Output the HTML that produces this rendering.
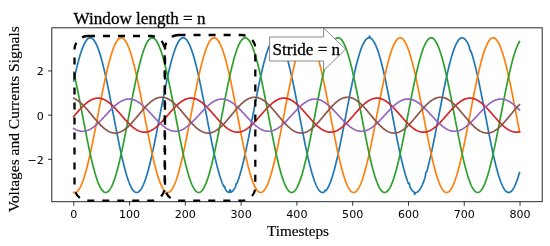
<!DOCTYPE html>
<html><head><meta charset="utf-8"><title>Window stride</title>
<style>
html,body{margin:0;padding:0;background:#fff;}
body{width:550px;height:246px;overflow:hidden;}
svg{display:block;}
.tk{font-family:"DejaVu Sans",sans-serif;font-size:11.1px;fill:#000;}
.sr{font-family:"Liberation Serif","Times New Roman",serif;fill:#000;stroke:#000;stroke-width:0.3px;}
</style></head><body>
<svg width="550" height="246" viewBox="0 0 550 246">
<rect width="550" height="246" fill="#fff"/>
<clipPath id="c"><rect x="51.80" y="27.80" width="490.40" height="173.90"/></clipPath>
<g clip-path="url(#c)">
<path d="M73.75,80.90 L74.31,78.31 L74.87,75.78 L75.42,73.29 L75.98,70.87 L76.54,68.51 L77.10,66.22 L77.66,64.00 L78.21,61.85 L78.77,59.77 L79.33,57.78 L79.89,55.86 L80.44,54.03 L81.00,52.29 L81.56,50.63 L82.12,49.07 L82.68,47.60 L83.23,46.23 L83.79,44.96 L84.35,43.78 L84.91,42.71 L85.47,41.74 L86.02,40.87 L86.58,40.11 L87.14,39.46 L87.70,38.91 L88.26,38.47 L88.81,38.14 L89.37,37.92 L89.93,37.81 L90.49,37.81 L91.04,37.92 L91.60,38.14 L92.16,38.47 L92.72,38.91 L93.28,39.46 L93.83,40.11 L94.39,40.87 L94.95,41.74 L95.51,42.71 L96.07,43.78 L96.62,44.96 L97.18,46.23 L97.74,47.60 L98.30,49.07 L98.86,50.63 L99.41,52.29 L99.97,54.03 L100.53,55.86 L101.09,57.78 L101.64,59.77 L102.20,61.85 L102.76,64.00 L103.32,66.22 L103.88,68.51 L104.43,70.87 L104.99,73.29 L105.55,75.78 L106.11,78.31 L106.67,80.90 L107.22,83.54 L107.78,86.22 L108.34,88.95 L108.90,91.71 L109.46,94.50 L110.01,97.33 L110.57,100.18 L111.13,103.05 L111.69,105.94 L112.25,108.84 L112.80,111.75 L113.36,114.66 L113.92,117.58 L114.48,120.49 L115.03,123.40 L115.59,126.29 L116.15,129.17 L116.71,132.02 L117.27,134.86 L117.82,137.66 L118.38,140.43 L118.94,143.17 L119.50,145.87 L120.06,148.52 L120.61,151.13 L121.17,153.68 L121.73,156.18 L122.29,158.63 L122.85,161.01 L123.40,163.32 L123.96,165.57 L124.52,167.74 L125.08,169.84 L125.63,171.87 L126.19,173.81 L126.75,175.67 L127.31,177.44 L127.87,179.12 L128.42,180.72 L128.98,182.22 L129.54,183.62 L130.10,184.93 L130.66,186.14 L131.21,187.25 L131.77,188.25 L132.33,189.15 L132.89,189.95 L133.45,190.64 L134.00,191.22 L134.56,191.69 L135.12,192.06 L135.68,192.32 L136.23,192.46 L136.79,192.50 L137.35,192.43 L137.91,192.24 L138.47,191.95 L139.02,191.55 L139.58,191.04 L140.14,190.42 L140.70,189.69 L141.26,188.86 L141.81,187.93 L142.37,186.89 L142.93,185.75 L143.49,184.51 L144.05,183.17 L144.60,181.73 L145.16,180.20 L145.72,178.57 L146.28,176.86 L146.83,175.06 L147.39,173.17 L147.95,171.20 L148.51,169.15 L149.07,167.03 L149.62,164.83 L150.18,162.56 L150.74,160.22 L151.30,157.82 L151.86,155.36 L152.41,152.84 L152.97,150.27 L153.53,147.64 L154.09,144.98 L154.65,142.26 L155.20,139.51 L155.76,136.73 L156.32,133.92 L156.88,131.07 L157.44,128.21 L157.99,125.33 L158.55,122.43 L159.11,119.52 L159.67,116.61 L160.22,113.69 L160.78,110.78 L161.34,107.87 L161.90,104.97 L162.46,102.09 L163.01,99.23 L163.57,96.39 L164.13,93.57 L164.69,90.79 L165.25,88.04 L165.80,85.33 L166.36,82.66 L166.92,80.03 L167.48,77.46 L168.04,74.94 L168.59,72.48 L169.15,70.08 L169.71,67.74 L170.27,65.47 L170.82,63.27 L171.38,61.15 L171.94,59.10 L172.50,57.13 L173.06,55.24 L173.61,53.44 L174.17,51.73 L174.73,50.10 L175.29,48.57 L175.85,47.14 L176.40,45.80 L176.96,44.55 L177.52,43.41 L178.08,42.37 L178.64,41.44 L179.19,40.61 L179.75,39.88 L180.31,39.26 L180.87,38.75 L181.42,38.35 L181.98,38.06 L182.54,37.87 L183.10,37.80 L183.66,37.84 L184.21,37.98 L184.77,38.24 L185.33,38.61 L185.89,39.08 L186.45,39.66 L187.00,40.35 L187.56,41.15 L188.12,42.05 L188.68,43.05 L189.24,44.16 L189.79,45.37 L190.35,46.68 L190.91,48.08 L191.47,49.58 L192.02,51.17 L192.58,52.86 L193.14,54.63 L193.70,56.49 L194.26,58.43 L194.81,60.45 L195.37,62.55 L195.93,64.73 L196.49,66.98 L197.05,69.29 L197.60,71.67 L198.16,74.11 L198.72,76.61 L199.28,79.17 L199.84,81.78 L200.39,84.43 L200.95,87.13 L201.51,89.86 L202.07,92.64 L202.62,95.44 L203.18,98.28 L203.74,101.13 L204.30,104.01 L204.86,106.90 L205.41,109.81 L205.97,112.72 L206.53,115.63 L207.09,118.55 L207.65,121.46 L208.20,124.36 L208.76,127.25 L209.32,130.12 L209.88,132.97 L210.44,135.79 L210.99,138.59 L211.55,141.35 L212.11,144.07 L212.67,146.76 L213.22,149.40 L213.78,151.99 L214.34,154.52 L214.90,157.00 L215.46,159.43 L216.01,161.79 L216.57,164.08 L217.13,166.30 L217.69,168.45 L218.25,170.53 L218.80,172.52 L219.36,174.44 L219.92,176.27 L220.48,178.01 L221.04,179.67 L221.59,181.23 L222.15,182.70 L222.71,184.07 L223.27,185.34 L223.83,186.52 L224.38,186.04 L224.94,187.63 L225.50,189.43 L226.06,190.19 L226.61,190.84 L227.17,191.39 L227.73,191.83 L228.29,192.16 L228.85,192.38 L229.40,192.49 L229.96,189.61 L230.52,190.65 L231.08,192.16 L231.64,191.83 L232.19,191.39 L232.75,190.84 L233.31,190.19 L233.87,189.43 L234.43,188.56 L234.98,187.59 L235.54,186.52 L236.10,184.02 L236.66,183.27 L237.21,182.70 L237.77,181.23 L238.33,179.67 L238.89,178.01 L239.45,176.27 L240.00,174.44 L240.56,172.52 L241.12,170.53 L241.68,168.45 L242.24,166.30 L242.79,164.08 L243.35,161.79 L243.91,159.43 L244.47,157.01 L245.03,154.53 L245.58,151.99 L246.14,149.40 L246.70,146.76 L247.26,144.08 L247.81,141.35 L248.37,138.59 L248.93,135.80 L249.49,132.97 L250.05,130.12 L250.60,127.25 L251.16,124.36 L251.72,121.46 L252.28,118.55 L252.84,115.64 L253.39,112.72 L253.95,109.81 L254.51,106.91 L255.07,104.01 L255.63,101.14 L256.18,98.28 L256.74,95.45 L257.30,92.64 L257.86,89.87 L258.41,87.13 L258.97,84.43 L259.53,81.78 L260.09,79.17 L260.65,76.62 L261.20,74.12 L261.76,71.67 L262.32,69.29 L262.88,66.98 L263.44,64.73 L263.99,62.56 L264.55,60.46 L265.11,58.43 L265.67,56.49 L266.23,54.63 L266.78,52.86 L267.34,51.18 L267.90,49.58 L268.46,48.08 L269.01,46.68 L269.57,45.37 L270.13,44.16 L270.69,43.05 L271.25,42.05 L271.80,41.15 L272.36,40.35 L272.92,39.66 L273.48,39.08 L274.04,38.61 L274.59,38.24 L275.15,37.98 L275.71,37.84 L276.27,37.80 L276.83,37.87 L277.38,38.06 L277.94,38.35 L278.50,38.75 L279.06,39.26 L279.62,39.88 L280.17,40.61 L280.73,41.44 L281.29,42.37 L281.85,43.41 L282.40,44.55 L282.96,45.79 L283.52,47.13 L284.08,48.57 L284.64,50.10 L285.19,51.73 L285.75,53.44 L286.31,55.24 L286.87,57.13 L287.43,59.10 L287.98,61.15 L288.54,63.27 L289.10,65.47 L289.66,67.74 L290.22,70.08 L290.77,72.48 L291.33,74.94 L291.89,77.46 L292.45,80.03 L293.00,82.65 L293.56,85.32 L294.12,88.03 L294.68,90.78 L295.24,93.57 L295.79,96.38 L296.35,99.22 L296.91,102.09 L297.47,104.97 L298.03,107.87 L298.58,110.78 L299.14,113.69 L299.70,116.61 L300.26,119.52 L300.82,122.43 L301.37,125.32 L301.93,128.21 L302.49,131.07 L303.05,133.91 L303.60,136.73 L304.16,139.51 L304.72,142.26 L305.28,144.97 L305.84,147.64 L306.39,150.26 L306.95,152.84 L307.51,155.36 L308.07,157.82 L308.63,160.22 L309.18,162.56 L309.74,164.83 L310.30,167.03 L310.86,169.15 L311.42,171.20 L311.97,173.17 L312.53,175.06 L313.09,176.86 L313.65,178.57 L314.20,180.20 L314.76,181.73 L315.32,183.16 L315.88,184.50 L316.44,185.75 L316.99,186.89 L317.55,187.93 L318.11,188.86 L318.67,189.69 L319.23,190.42 L319.78,191.04 L320.34,191.55 L320.90,191.95 L321.46,192.24 L322.02,192.43 L322.57,192.50 L323.13,192.46 L323.69,192.32 L324.25,192.06 L324.80,190.37 L325.36,190.42 L325.92,190.64 L326.48,189.95 L327.04,189.15 L327.59,188.25 L328.15,187.25 L328.71,186.14 L329.27,184.93 L329.83,183.62 L330.38,182.22 L330.94,180.72 L331.50,179.13 L332.06,177.44 L332.62,175.67 L333.17,173.81 L333.73,171.87 L334.29,169.85 L334.85,167.75 L335.41,165.57 L335.96,163.32 L336.52,161.01 L337.08,158.63 L337.64,156.19 L338.19,153.69 L338.75,151.13 L339.31,148.53 L339.87,145.87 L340.43,143.17 L340.98,140.44 L341.54,137.66 L342.10,134.86 L342.66,132.03 L343.22,129.17 L343.77,126.29 L344.33,123.40 L344.89,120.49 L345.45,117.58 L346.01,114.67 L346.56,111.75 L347.12,108.84 L347.68,105.94 L348.24,103.05 L348.79,100.18 L349.35,97.33 L349.91,94.51 L350.47,91.71 L351.03,88.95 L351.58,86.23 L352.14,83.54 L352.70,80.91 L353.26,78.32 L353.82,75.78 L354.37,73.30 L354.93,70.87 L355.49,68.52 L356.05,66.22 L356.61,64.00 L357.16,61.85 L357.72,59.77 L358.28,57.78 L358.84,55.86 L359.39,54.03 L359.95,52.29 L360.51,50.64 L361.07,49.07 L361.63,47.60 L362.18,46.23 L362.74,44.96 L363.30,43.78 L363.86,42.71 L364.42,41.74 L364.97,40.87 L365.53,40.11 L366.09,39.46 L366.65,38.91 L367.21,38.47 L367.76,38.14 L368.32,37.92 L368.88,37.81 L369.44,36.05 L369.99,36.86 L370.55,38.14 L371.11,38.47 L371.67,38.91 L372.23,39.46 L372.78,40.11 L373.34,40.87 L373.90,41.74 L374.46,42.71 L375.02,43.78 L375.57,44.95 L376.13,46.23 L376.69,47.60 L377.25,49.07 L377.81,50.63 L378.36,52.29 L378.92,54.03 L379.48,55.86 L380.04,57.77 L380.59,59.77 L381.15,61.84 L381.71,64.00 L382.27,66.22 L382.83,68.51 L383.38,70.87 L383.94,73.29 L384.50,75.77 L385.06,78.31 L385.62,80.90 L386.17,83.54 L386.73,86.22 L387.29,88.95 L387.85,91.71 L388.41,94.50 L388.96,97.33 L389.52,100.18 L390.08,103.05 L390.64,105.93 L391.20,108.84 L391.75,111.75 L392.31,114.66 L392.87,117.58 L393.43,120.49 L393.98,123.39 L394.54,126.29 L395.10,129.16 L395.66,132.02 L396.22,134.85 L396.77,137.66 L397.33,140.43 L397.89,143.17 L398.45,145.87 L399.01,148.52 L399.56,151.13 L400.12,153.68 L400.68,156.18 L401.24,158.62 L401.80,161.00 L402.35,163.32 L402.91,165.57 L403.47,167.74 L404.03,169.84 L404.58,171.87 L405.14,173.81 L405.70,175.67 L406.26,177.44 L406.82,179.12 L407.37,180.72 L407.93,182.22 L408.49,183.62 L409.05,182.94 L409.61,184.94 L410.16,187.24 L410.72,188.25 L411.28,189.15 L411.84,189.95 L412.40,190.64 L412.95,191.22 L413.51,191.69 L414.07,192.06 L414.63,194.30 L415.18,193.66 L415.74,192.50 L416.30,192.43 L416.86,192.24 L417.42,191.95 L417.97,191.55 L418.53,191.04 L419.09,190.42 L419.65,189.69 L420.21,188.86 L420.76,187.93 L421.32,186.89 L421.88,185.75 L422.44,184.51 L423.00,183.17 L423.55,181.73 L424.11,180.20 L424.67,178.58 L425.23,176.86 L425.78,173.07 L426.34,171.98 L426.90,171.20 L427.46,169.16 L428.02,167.03 L428.57,164.83 L429.13,162.56 L429.69,160.22 L430.25,157.82 L430.81,155.36 L431.36,152.84 L431.92,150.27 L432.48,147.65 L433.04,144.98 L433.60,142.27 L434.15,139.52 L434.71,136.73 L435.27,133.92 L435.83,131.08 L436.38,128.21 L436.94,125.33 L437.50,122.43 L438.06,119.53 L438.62,116.61 L439.17,113.70 L439.73,110.78 L440.29,107.87 L440.85,104.98 L441.41,102.09 L441.96,99.23 L442.52,96.39 L443.08,93.57 L443.64,90.79 L444.20,88.04 L444.75,85.33 L445.31,82.66 L445.87,80.04 L446.43,77.46 L446.99,74.95 L447.54,72.48 L448.10,70.08 L448.66,67.74 L449.22,65.47 L449.77,63.28 L450.33,61.15 L450.89,59.10 L451.45,57.13 L452.01,55.24 L452.56,53.44 L453.12,51.73 L453.68,50.10 L454.24,48.57 L454.80,47.14 L455.35,45.80 L455.91,44.55 L456.47,43.41 L457.03,42.37 L457.59,41.44 L458.14,40.61 L458.70,39.88 L459.26,39.26 L459.82,38.75 L460.37,38.35 L460.93,38.06 L461.49,37.87 L462.05,37.80 L462.61,37.84 L463.16,37.98 L463.72,38.24 L464.28,38.61 L464.84,39.08 L465.40,39.66 L465.95,40.35 L466.51,41.15 L467.07,42.05 L467.63,43.05 L468.19,44.16 L468.74,45.37 L469.30,46.68 L469.86,50.07 L470.42,50.77 L470.97,51.17 L471.53,52.86 L472.09,54.63 L472.65,56.49 L473.21,58.43 L473.76,60.45 L474.32,62.55 L474.88,64.73 L475.44,66.97 L476.00,69.29 L476.55,71.67 L477.11,74.11 L477.67,76.61 L478.23,79.17 L478.79,81.77 L479.34,84.43 L479.90,87.12 L480.46,89.86 L481.02,92.63 L481.57,95.44 L482.13,98.27 L482.69,101.13 L483.25,104.01 L483.81,106.90 L484.36,109.80 L484.92,112.72 L485.48,115.63 L486.04,118.55 L486.60,121.46 L487.15,124.36 L487.71,127.25 L488.27,130.12 L488.83,132.97 L489.39,135.79 L489.94,138.59 L490.50,141.35 L491.06,144.07 L491.62,146.76 L492.17,149.39 L492.73,151.98 L493.29,154.52 L493.85,157.00 L494.41,159.42 L494.96,161.78 L495.52,164.08 L496.08,166.30 L496.64,168.45 L497.20,170.52 L497.75,172.52 L498.31,174.44 L498.87,176.27 L499.43,178.01 L499.99,179.66 L500.54,181.23 L501.10,182.69 L501.66,184.07 L502.22,185.34 L502.78,186.52 L503.33,187.59 L503.89,188.56 L504.45,189.43 L505.01,190.19 L505.56,190.84 L506.12,191.39 L506.68,191.83 L507.24,192.16 L507.80,192.38 L508.35,192.49 L508.91,192.49 L509.47,192.38 L510.03,192.16 L510.59,191.83 L511.14,191.39 L511.70,190.84 L512.26,190.19 L512.82,189.43 L513.38,188.56 L513.93,187.59 L514.49,186.52 L515.05,185.35 L515.61,184.07 L516.16,182.70 L516.72,181.23 L517.28,179.67 L517.84,178.01 L518.40,176.27 L518.95,174.44 L519.51,172.53" fill="none" stroke="#1f77b4" stroke-width="1.70" stroke-linejoin="round" stroke-linecap="square"/>
<path d="M73.75,192.34 L74.31,192.47 L74.87,192.50 L75.42,192.41 L75.98,192.21 L76.54,191.91 L77.10,191.50 L77.66,190.97 L78.21,190.34 L78.77,189.61 L79.33,188.76 L79.89,187.82 L80.44,186.77 L81.00,185.61 L81.56,184.36 L82.12,183.01 L82.68,181.56 L83.23,180.02 L83.79,178.39 L84.35,176.66 L84.91,174.85 L85.47,172.96 L86.02,170.98 L86.58,168.92 L87.14,166.79 L87.70,164.58 L88.26,162.30 L88.81,159.96 L89.37,157.55 L89.93,155.08 L90.49,152.56 L91.04,149.98 L91.60,147.35 L92.16,144.68 L92.72,141.96 L93.28,139.21 L93.83,136.42 L94.39,133.60 L94.95,130.76 L95.51,127.89 L96.07,125.01 L96.62,122.11 L97.18,119.20 L97.74,116.28 L98.30,113.37 L98.86,110.45 L99.41,107.55 L99.97,104.65 L100.53,101.77 L101.09,98.91 L101.64,96.07 L102.20,93.26 L102.76,90.48 L103.32,87.73 L103.88,85.03 L104.43,82.36 L104.99,79.75 L105.55,77.18 L106.11,74.67 L106.67,72.21 L107.22,69.82 L107.78,67.49 L108.34,65.22 L108.90,63.03 L109.46,60.92 L110.01,58.88 L110.57,56.92 L111.13,55.04 L111.69,53.25 L112.25,51.54 L112.80,49.93 L113.36,48.41 L113.92,46.98 L114.48,45.65 L115.03,44.42 L115.59,43.29 L116.15,42.26 L116.71,41.34 L117.27,40.52 L117.82,39.81 L118.38,39.20 L118.94,38.70 L119.50,38.31 L120.06,38.03 L120.61,37.86 L121.17,37.80 L121.73,37.85 L122.29,38.01 L122.85,38.28 L123.40,38.65 L123.96,39.14 L124.52,39.73 L125.08,40.44 L125.63,41.24 L126.19,42.16 L126.75,43.17 L127.31,44.29 L127.87,45.51 L128.42,46.83 L128.98,48.24 L129.54,49.75 L130.10,51.36 L130.66,53.05 L131.21,54.83 L131.77,56.70 L132.33,58.65 L132.89,60.68 L133.45,62.79 L134.00,64.98 L134.56,67.23 L135.12,69.55 L135.68,71.94 L136.23,74.39 L136.79,76.90 L137.35,79.46 L137.91,82.07 L138.47,84.73 L139.02,87.43 L139.58,90.17 L140.14,92.95 L140.70,95.76 L141.26,98.59 L141.81,101.45 L142.37,104.33 L142.93,107.23 L143.49,110.13 L144.05,113.04 L144.60,115.96 L145.16,118.87 L145.72,121.78 L146.28,124.68 L146.83,127.57 L147.39,130.44 L147.95,133.29 L148.51,136.11 L149.07,138.90 L149.62,141.66 L150.18,144.38 L150.74,147.05 L151.30,149.69 L151.86,152.27 L152.41,154.80 L152.97,157.28 L153.53,159.69 L154.09,162.04 L154.65,164.33 L155.20,166.54 L155.76,168.69 L156.32,170.75 L156.88,172.74 L157.44,174.65 L157.99,176.47 L158.55,178.20 L159.11,179.84 L159.67,181.40 L160.22,182.85 L160.78,184.22 L161.34,185.48 L161.90,186.64 L162.46,187.70 L163.01,188.66 L163.57,189.52 L164.13,190.27 L164.69,190.91 L165.25,191.44 L165.80,191.87 L166.36,192.19 L166.92,192.39 L167.48,192.49 L168.04,192.48 L168.59,192.36 L169.15,192.13 L169.71,191.78 L170.27,191.33 L170.82,190.78 L171.38,190.11 L171.94,189.34 L172.50,188.46 L173.06,187.48 L173.61,186.39 L174.17,185.21 L174.73,183.92 L175.29,182.54 L175.85,181.06 L176.40,179.49 L176.96,177.82 L177.52,176.07 L178.08,174.23 L178.64,172.31 L179.19,170.30 L179.75,168.22 L180.31,166.06 L180.87,163.83 L181.42,161.53 L181.98,159.16 L182.54,156.73 L183.10,154.25 L183.66,151.70 L184.21,149.11 L184.77,146.46 L185.33,143.78 L185.89,141.05 L186.45,138.28 L187.00,135.48 L187.56,132.66 L188.12,129.80 L188.68,126.93 L189.24,124.04 L189.79,121.14 L190.35,118.23 L190.91,115.31 L191.47,112.40 L192.02,109.49 L192.58,106.58 L193.14,103.69 L193.70,100.82 L194.26,97.96 L194.81,95.13 L195.37,92.33 L195.93,89.56 L196.49,86.83 L197.05,84.13 L197.60,81.49 L198.16,78.89 L198.72,76.34 L199.28,73.84 L199.84,71.41 L200.39,69.03 L200.95,66.73 L201.51,64.49 L202.07,62.32 L202.62,60.23 L203.18,58.21 L203.74,56.28 L204.30,54.43 L204.86,52.67 L205.41,50.99 L205.97,49.41 L206.53,47.92 L207.09,46.53 L207.65,45.23 L208.20,44.03 L208.76,42.94 L209.32,41.94 L209.88,41.06 L210.44,40.27 L210.99,39.59 L211.55,39.02 L212.11,38.56 L212.67,38.21 L213.22,37.96 L213.78,37.83 L214.34,37.80 L214.90,37.89 L215.46,38.08 L216.01,38.39 L216.57,38.80 L217.13,39.33 L217.69,39.96 L218.25,40.69 L218.80,41.54 L219.36,42.48 L219.92,43.53 L220.48,44.69 L221.04,45.94 L221.59,47.29 L222.15,48.74 L222.71,50.28 L223.27,51.91 L223.83,53.64 L224.38,55.45 L224.94,57.34 L225.50,59.32 L226.06,61.38 L226.61,63.51 L227.17,65.72 L227.73,68.00 L228.29,70.34 L228.85,72.75 L229.40,75.22 L229.96,77.74 L230.52,80.32 L231.08,82.95 L231.64,85.62 L232.19,88.34 L232.75,91.09 L233.31,93.88 L233.87,96.70 L234.43,99.54 L234.98,102.41 L235.54,105.29 L236.10,108.19 L236.66,111.10 L237.21,114.01 L237.77,116.93 L238.33,119.84 L238.89,122.75 L239.45,125.65 L240.00,128.53 L240.56,131.39 L241.12,134.23 L241.68,137.04 L242.24,139.82 L242.79,142.57 L243.35,145.27 L243.91,147.94 L244.47,150.55 L245.03,153.12 L245.58,155.63 L246.14,158.09 L246.70,160.48 L247.26,162.81 L247.81,165.07 L248.37,167.27 L248.93,169.38 L249.49,171.42 L250.05,173.38 L250.60,175.26 L251.16,177.05 L251.72,178.76 L252.28,180.37 L252.84,181.89 L253.39,183.32 L253.95,184.65 L254.51,185.88 L255.07,187.01 L255.63,188.04 L256.18,188.96 L256.74,189.78 L257.30,190.49 L257.86,191.10 L258.41,191.60 L258.97,191.99 L259.53,192.27 L260.09,192.44 L260.65,192.50 L261.20,192.45 L261.76,192.29 L262.32,192.02 L262.88,191.65 L263.44,191.16 L263.99,190.57 L264.55,189.86 L265.11,189.06 L265.67,188.14 L266.23,187.13 L266.78,186.01 L267.34,184.79 L267.90,183.47 L268.46,182.06 L269.01,180.55 L269.57,178.94 L270.13,177.25 L270.69,175.47 L271.25,173.60 L271.80,171.65 L272.36,169.62 L272.92,167.51 L273.48,165.32 L274.04,163.07 L274.59,160.75 L275.15,158.36 L275.71,155.91 L276.27,153.41 L276.83,150.84 L277.38,148.23 L277.94,145.57 L278.50,142.87 L279.06,140.13 L279.62,137.35 L280.17,134.54 L280.73,131.71 L281.29,128.85 L281.85,125.97 L282.40,123.08 L282.96,120.17 L283.52,117.26 L284.08,114.34 L284.64,111.43 L285.19,108.52 L285.75,105.62 L286.31,102.73 L286.87,99.86 L287.43,97.02 L287.98,94.20 L288.54,91.40 L289.10,88.65 L289.66,85.93 L290.22,83.25 L290.77,80.61 L291.33,78.03 L291.89,75.50 L292.45,73.02 L293.00,70.61 L293.56,68.26 L294.12,65.97 L294.68,63.76 L295.24,61.61 L295.79,59.55 L296.35,57.56 L296.91,55.66 L297.47,53.83 L298.03,52.10 L298.58,50.46 L299.14,48.90 L299.70,47.45 L300.26,46.09 L300.82,44.82 L301.37,43.66 L301.93,42.60 L302.49,41.64 L303.05,40.78 L303.60,40.03 L304.16,39.39 L304.72,38.86 L305.28,38.43 L305.84,38.11 L306.39,37.91 L306.95,37.81 L307.51,37.82 L308.07,37.94 L308.63,38.17 L309.18,38.52 L309.74,38.97 L310.30,39.52 L310.86,40.19 L311.42,40.96 L311.97,41.84 L312.53,42.82 L313.09,43.91 L313.65,45.09 L314.20,46.38 L314.76,47.76 L315.32,49.24 L315.88,50.81 L316.44,52.48 L316.99,54.23 L317.55,56.07 L318.11,57.99 L318.67,60.00 L319.23,62.08 L319.78,64.24 L320.34,66.47 L320.90,68.77 L321.46,71.14 L322.02,73.57 L322.57,76.05 L323.13,78.60 L323.69,81.19 L324.25,83.83 L324.80,86.52 L325.36,89.25 L325.92,92.02 L326.48,94.82 L327.04,97.64 L327.59,100.49 L328.15,103.37 L328.71,106.26 L329.27,109.16 L329.83,112.07 L330.38,114.99 L330.94,117.90 L331.50,120.81 L332.06,123.72 L332.62,126.61 L333.17,129.48 L333.73,132.34 L334.29,135.17 L334.85,137.97 L335.41,140.74 L335.96,143.47 L336.52,146.16 L337.08,148.81 L337.64,151.41 L338.19,153.96 L338.75,156.46 L339.31,158.89 L339.87,161.27 L340.43,163.57 L340.98,165.81 L341.54,167.98 L342.10,170.07 L342.66,172.09 L343.22,174.02 L343.77,175.87 L344.33,177.63 L344.89,179.30 L345.45,180.89 L346.01,182.38 L346.56,183.77 L347.12,185.07 L347.68,186.27 L348.24,187.36 L348.79,188.36 L349.35,189.24 L349.91,190.03 L350.47,190.71 L351.03,191.28 L351.58,191.74 L352.14,192.09 L352.70,192.34 L353.26,192.47 L353.82,192.50 L354.37,192.41 L354.93,192.22 L355.49,191.91 L356.05,191.50 L356.61,190.97 L357.16,190.34 L357.72,189.61 L358.28,188.76 L358.84,187.82 L359.39,186.77 L359.95,185.61 L360.51,184.36 L361.07,183.01 L361.63,181.56 L362.18,180.02 L362.74,178.39 L363.30,176.67 L363.86,174.85 L364.42,172.96 L364.97,170.98 L365.53,168.92 L366.09,166.79 L366.65,164.58 L367.21,162.30 L367.76,159.96 L368.32,157.55 L368.88,155.08 L369.44,152.56 L369.99,149.98 L370.55,147.35 L371.11,144.68 L371.67,141.96 L372.23,139.21 L372.78,136.42 L373.34,133.60 L373.90,130.76 L374.46,127.89 L375.02,125.01 L375.57,122.11 L376.13,119.20 L376.69,116.29 L377.25,113.37 L377.81,110.46 L378.36,107.55 L378.92,104.66 L379.48,101.77 L380.04,98.91 L380.59,96.07 L381.15,93.26 L381.71,90.48 L382.27,87.74 L382.83,85.03 L383.38,82.37 L383.94,79.75 L384.50,77.18 L385.06,74.67 L385.62,72.21 L386.17,69.82 L386.73,67.49 L387.29,65.23 L387.85,63.03 L388.41,60.92 L388.96,58.88 L389.52,56.92 L390.08,55.04 L390.64,53.25 L391.20,51.54 L391.75,49.93 L392.31,48.41 L392.87,46.98 L393.43,45.65 L393.98,44.42 L394.54,43.29 L395.10,42.26 L395.66,41.34 L396.22,40.52 L396.77,39.81 L397.33,39.20 L397.89,38.70 L398.45,38.31 L399.01,38.03 L399.56,37.86 L400.12,37.80 L400.68,37.85 L401.24,38.01 L401.80,38.28 L402.35,38.65 L402.91,39.14 L403.47,39.73 L404.03,40.43 L404.58,41.24 L405.14,42.15 L405.70,43.17 L406.26,44.29 L406.82,45.51 L407.37,46.83 L407.93,48.24 L408.49,49.75 L409.05,51.36 L409.61,53.05 L410.16,54.83 L410.72,56.70 L411.28,58.65 L411.84,60.68 L412.40,62.79 L412.95,64.97 L413.51,67.23 L414.07,69.55 L414.63,71.94 L415.18,74.39 L415.74,76.89 L416.30,79.45 L416.86,82.07 L417.42,84.73 L417.97,87.43 L418.53,90.17 L419.09,92.95 L419.65,95.75 L420.21,98.59 L420.76,101.45 L421.32,104.33 L421.88,107.22 L422.44,110.13 L423.00,113.04 L423.55,115.96 L424.11,118.87 L424.67,121.78 L425.23,124.68 L425.78,127.57 L426.34,130.44 L426.90,133.28 L427.46,136.10 L428.02,138.89 L428.57,141.65 L429.13,144.37 L429.69,147.05 L430.25,149.68 L430.81,152.27 L431.36,154.80 L431.92,157.27 L432.48,159.69 L433.04,162.04 L433.60,164.33 L434.15,166.54 L434.71,168.68 L435.27,170.75 L435.83,172.74 L436.38,174.64 L436.94,176.46 L437.50,178.20 L438.06,179.84 L438.62,181.39 L439.17,182.85 L439.73,184.21 L440.29,185.48 L440.85,186.64 L441.41,187.70 L441.96,188.66 L442.52,189.52 L443.08,190.27 L443.64,190.91 L444.20,191.44 L444.75,191.87 L445.31,192.19 L445.87,192.39 L446.43,192.49 L446.99,192.48 L447.54,192.36 L448.10,192.13 L448.66,191.78 L449.22,191.33 L449.77,190.78 L450.33,190.11 L450.89,189.34 L451.45,188.46 L452.01,187.48 L452.56,186.39 L453.12,185.21 L453.68,183.92 L454.24,182.54 L454.80,181.06 L455.35,179.49 L455.91,177.82 L456.47,176.07 L457.03,174.23 L457.59,172.31 L458.14,170.30 L458.70,168.22 L459.26,166.06 L459.82,163.83 L460.37,161.53 L460.93,159.16 L461.49,156.74 L462.05,154.25 L462.61,151.71 L463.16,149.11 L463.72,146.47 L464.28,143.78 L464.84,141.05 L465.40,138.28 L465.95,135.49 L466.51,132.66 L467.07,129.81 L467.63,126.93 L468.19,124.04 L468.74,121.14 L469.30,118.23 L469.86,115.32 L470.42,112.40 L470.97,109.49 L471.53,106.59 L472.09,103.69 L472.65,100.82 L473.21,97.96 L473.76,95.13 L474.32,92.33 L474.88,89.56 L475.44,86.83 L476.00,84.14 L476.55,81.49 L477.11,78.89 L477.67,76.34 L478.23,73.84 L478.79,71.41 L479.34,69.04 L479.90,66.73 L480.46,64.49 L481.02,62.32 L481.57,60.23 L482.13,58.22 L482.69,56.28 L483.25,54.43 L483.81,52.67 L484.36,51.00 L484.92,49.41 L485.48,47.92 L486.04,46.53 L486.60,45.23 L487.15,44.04 L487.71,42.94 L488.27,41.95 L488.83,41.06 L489.39,40.27 L489.94,39.59 L490.50,39.02 L491.06,38.56 L491.62,38.21 L492.17,37.96 L492.73,37.83 L493.29,37.80 L493.85,37.89 L494.41,38.08 L494.96,38.39 L495.52,38.80 L496.08,39.33 L496.64,39.96 L497.20,40.69 L497.75,41.53 L498.31,42.48 L498.87,43.53 L499.43,44.68 L499.99,45.94 L500.54,47.29 L501.10,48.73 L501.66,50.28 L502.22,51.91 L502.78,53.63 L503.33,55.44 L503.89,57.34 L504.45,59.32 L505.01,61.38 L505.56,63.51 L506.12,65.72 L506.68,67.99 L507.24,70.34 L507.80,72.75 L508.35,75.22 L508.91,77.74 L509.47,80.32 L510.03,82.95 L510.59,85.62 L511.14,88.34 L511.70,91.09 L512.26,93.88 L512.82,96.70 L513.38,99.54 L513.93,102.41 L514.49,105.29 L515.05,108.19 L515.61,111.10 L516.16,114.01 L516.72,116.93 L517.28,119.84 L517.84,122.75 L518.40,125.64 L518.95,128.52 L519.51,131.39" fill="none" stroke="#ff7f0e" stroke-width="1.70" stroke-linejoin="round" stroke-linecap="square"/>
<path d="M73.75,72.21 L74.31,74.67 L74.87,77.18 L75.42,79.75 L75.98,82.36 L76.54,85.03 L77.10,87.73 L77.66,90.48 L78.21,93.26 L78.77,96.07 L79.33,98.91 L79.89,101.77 L80.44,104.65 L81.00,107.55 L81.56,110.45 L82.12,113.37 L82.68,116.28 L83.23,119.20 L83.79,122.11 L84.35,125.01 L84.91,127.89 L85.47,130.76 L86.02,133.60 L86.58,136.42 L87.14,139.21 L87.70,141.96 L88.26,144.68 L88.81,147.35 L89.37,149.98 L89.93,152.56 L90.49,155.08 L91.04,157.55 L91.60,159.96 L92.16,162.30 L92.72,164.58 L93.28,166.79 L93.83,168.92 L94.39,170.98 L94.95,172.96 L95.51,174.85 L96.07,176.66 L96.62,178.39 L97.18,180.02 L97.74,181.56 L98.30,183.01 L98.86,184.36 L99.41,185.61 L99.97,186.77 L100.53,187.82 L101.09,188.76 L101.64,189.61 L102.20,190.34 L102.76,190.97 L103.32,191.50 L103.88,191.91 L104.43,192.21 L104.99,192.41 L105.55,192.50 L106.11,192.47 L106.67,192.34 L107.22,192.09 L107.78,191.74 L108.34,191.28 L108.90,190.71 L109.46,190.03 L110.01,189.25 L110.57,188.36 L111.13,187.36 L111.69,186.27 L112.25,185.07 L112.80,183.77 L113.36,182.38 L113.92,180.89 L114.48,179.31 L115.03,177.63 L115.59,175.87 L116.15,174.02 L116.71,172.09 L117.27,170.07 L117.82,167.98 L118.38,165.81 L118.94,163.58 L119.50,161.27 L120.06,158.90 L120.61,156.46 L121.17,153.97 L121.73,151.42 L122.29,148.82 L122.85,146.17 L123.40,143.47 L123.96,140.74 L124.52,137.97 L125.08,135.17 L125.63,132.34 L126.19,129.49 L126.75,126.61 L127.31,123.72 L127.87,120.82 L128.42,117.90 L128.98,114.99 L129.54,112.07 L130.10,109.16 L130.66,106.26 L131.21,103.37 L131.77,100.50 L132.33,97.65 L132.89,94.82 L133.45,92.02 L134.00,89.25 L134.56,86.53 L135.12,83.84 L135.68,81.19 L136.23,78.60 L136.79,76.06 L137.35,73.57 L137.91,71.14 L138.47,68.77 L139.02,66.47 L139.58,64.24 L140.14,62.08 L140.70,60.00 L141.26,57.99 L141.81,56.07 L142.37,54.23 L142.93,52.48 L143.49,50.81 L144.05,49.24 L144.60,47.76 L145.16,46.38 L145.72,45.09 L146.28,43.91 L146.83,42.82 L147.39,41.84 L147.95,40.96 L148.51,40.19 L149.07,39.52 L149.62,38.97 L150.18,38.52 L150.74,38.17 L151.30,37.94 L151.86,37.82 L152.41,37.81 L152.97,37.91 L153.53,38.11 L154.09,38.43 L154.65,38.86 L155.20,39.39 L155.76,40.03 L156.32,40.78 L156.88,41.64 L157.44,42.59 L157.99,43.66 L158.55,44.82 L159.11,46.08 L159.67,47.45 L160.22,48.90 L160.78,50.46 L161.34,52.10 L161.90,53.83 L162.46,55.65 L163.01,57.56 L163.57,59.55 L164.13,61.61 L164.69,63.75 L165.25,65.97 L165.80,68.25 L166.36,70.61 L166.92,73.02 L167.48,75.50 L168.04,78.03 L168.59,80.61 L169.15,83.24 L169.71,85.92 L170.27,88.64 L170.82,91.40 L171.38,94.19 L171.94,97.01 L172.50,99.86 L173.06,102.73 L173.61,105.62 L174.17,108.52 L174.73,111.42 L175.29,114.34 L175.85,117.25 L176.40,120.17 L176.96,123.07 L177.52,125.97 L178.08,128.85 L178.64,131.71 L179.19,134.54 L179.75,137.35 L180.31,140.13 L180.87,142.87 L181.42,145.57 L181.98,148.23 L182.54,150.84 L183.10,153.40 L183.66,155.91 L184.21,158.36 L184.77,160.75 L185.33,163.07 L185.89,165.32 L186.45,167.51 L187.00,169.61 L187.56,171.65 L188.12,173.60 L188.68,175.46 L189.24,177.25 L189.79,178.94 L190.35,180.54 L190.91,182.06 L191.47,183.47 L192.02,184.79 L192.58,186.01 L193.14,187.13 L193.70,188.14 L194.26,189.06 L194.81,189.86 L195.37,190.57 L195.93,191.16 L196.49,191.65 L197.05,192.02 L197.60,192.29 L198.16,192.45 L198.72,192.50 L199.28,192.44 L199.84,192.27 L200.39,191.99 L200.95,191.60 L201.51,191.10 L202.07,190.49 L202.62,189.78 L203.18,188.96 L203.74,188.04 L204.30,187.01 L204.86,185.88 L205.41,184.65 L205.97,183.32 L206.53,181.89 L207.09,180.37 L207.65,178.76 L208.20,177.05 L208.76,175.26 L209.32,173.39 L209.88,171.43 L210.44,169.39 L210.99,167.27 L211.55,165.08 L212.11,162.81 L212.67,160.49 L213.22,158.09 L213.78,155.64 L214.34,153.12 L214.90,150.56 L215.46,147.94 L216.01,145.27 L216.57,142.57 L217.13,139.82 L217.69,137.04 L218.25,134.23 L218.80,131.39 L219.36,128.53 L219.92,125.65 L220.48,122.75 L221.04,119.85 L221.59,116.93 L222.15,114.02 L222.71,111.10 L223.27,108.19 L223.83,105.30 L224.38,102.41 L224.94,99.55 L225.50,96.70 L226.06,93.88 L226.61,91.09 L227.17,88.34 L227.73,85.63 L228.29,82.95 L228.85,80.32 L229.40,77.75 L229.96,75.22 L230.52,72.75 L231.08,70.34 L231.64,68.00 L232.19,65.72 L232.75,63.51 L233.31,61.38 L233.87,59.32 L234.43,57.34 L234.98,55.45 L235.54,53.64 L236.10,51.91 L236.66,50.28 L237.21,48.74 L237.77,47.29 L238.33,45.94 L238.89,44.69 L239.45,43.53 L240.00,42.48 L240.56,41.54 L241.12,40.69 L241.68,39.96 L242.24,39.33 L242.79,38.80 L243.35,38.39 L243.91,38.09 L244.47,37.89 L245.03,37.80 L245.58,37.83 L246.14,37.96 L246.70,38.21 L247.26,38.56 L247.81,39.02 L248.37,39.59 L248.93,40.27 L249.49,41.05 L250.05,41.94 L250.60,42.94 L251.16,44.03 L251.72,45.23 L252.28,46.53 L252.84,47.92 L253.39,49.41 L253.95,50.99 L254.51,52.67 L255.07,54.43 L255.63,56.28 L256.18,58.21 L256.74,60.23 L257.30,62.32 L257.86,64.48 L258.41,66.72 L258.97,69.03 L259.53,71.40 L260.09,73.84 L260.65,76.33 L261.20,78.88 L261.76,81.48 L262.32,84.13 L262.88,86.82 L263.44,89.56 L263.99,92.33 L264.55,95.13 L265.11,97.96 L265.67,100.81 L266.23,103.69 L266.78,106.58 L267.34,109.48 L267.90,112.39 L268.46,115.31 L269.01,118.23 L269.57,121.14 L270.13,124.04 L270.69,126.93 L271.25,129.80 L271.80,132.65 L272.36,135.48 L272.92,138.28 L273.48,141.04 L274.04,143.77 L274.59,146.46 L275.15,149.10 L275.71,151.70 L276.27,154.24 L276.83,156.73 L277.38,159.16 L277.94,161.53 L278.50,163.83 L279.06,166.06 L279.62,168.22 L280.17,170.30 L280.73,172.30 L281.29,174.23 L281.85,176.07 L282.40,177.82 L282.96,179.49 L283.52,181.06 L284.08,182.54 L284.64,183.92 L285.19,185.21 L285.75,186.39 L286.31,187.48 L286.87,188.46 L287.43,189.34 L287.98,190.11 L288.54,190.78 L289.10,191.33 L289.66,191.78 L290.22,192.13 L290.77,192.36 L291.33,192.48 L291.89,192.49 L292.45,192.39 L293.00,192.19 L293.56,191.87 L294.12,191.44 L294.68,190.91 L295.24,190.27 L295.79,189.52 L296.35,188.66 L296.91,187.71 L297.47,186.64 L298.03,185.48 L298.58,184.22 L299.14,182.86 L299.70,181.40 L300.26,179.85 L300.82,178.20 L301.37,176.47 L301.93,174.65 L302.49,172.74 L303.05,170.75 L303.60,168.69 L304.16,166.55 L304.72,164.33 L305.28,162.05 L305.84,159.69 L306.39,157.28 L306.95,154.80 L307.51,152.27 L308.07,149.69 L308.63,147.06 L309.18,144.38 L309.74,141.66 L310.30,138.90 L310.86,136.11 L311.42,133.29 L311.97,130.44 L312.53,127.57 L313.09,124.69 L313.65,121.79 L314.20,118.88 L314.76,115.96 L315.32,113.05 L315.88,110.13 L316.44,107.23 L316.99,104.33 L317.55,101.45 L318.11,98.60 L318.67,95.76 L319.23,92.95 L319.78,90.17 L320.34,87.43 L320.90,84.73 L321.46,82.07 L322.02,79.46 L322.57,76.90 L323.13,74.39 L323.69,71.94 L324.25,69.56 L324.80,67.23 L325.36,64.98 L325.92,62.80 L326.48,60.69 L327.04,58.66 L327.59,56.70 L328.15,54.84 L328.71,53.05 L329.27,51.36 L329.83,49.76 L330.38,48.25 L330.94,46.83 L331.50,45.51 L332.06,44.29 L332.62,43.17 L333.17,42.16 L333.73,41.24 L334.29,40.44 L334.85,39.73 L335.41,39.14 L335.96,38.65 L336.52,38.28 L337.08,38.01 L337.64,37.85 L338.19,37.80 L338.75,37.86 L339.31,38.03 L339.87,38.31 L340.43,38.70 L340.98,39.20 L341.54,39.81 L342.10,40.52 L342.66,41.34 L343.22,42.26 L343.77,43.29 L344.33,44.42 L344.89,45.65 L345.45,46.98 L346.01,48.41 L346.56,49.93 L347.12,51.54 L347.68,53.24 L348.24,55.04 L348.79,56.91 L349.35,58.87 L349.91,60.91 L350.47,63.03 L351.03,65.22 L351.58,67.48 L352.14,69.81 L352.70,72.21 L353.26,74.66 L353.82,77.18 L354.37,79.74 L354.93,82.36 L355.49,85.02 L356.05,87.73 L356.61,90.48 L357.16,93.26 L357.72,96.07 L358.28,98.91 L358.84,101.77 L359.39,104.65 L359.95,107.55 L360.51,110.45 L361.07,113.37 L361.63,116.28 L362.18,119.20 L362.74,122.10 L363.30,125.00 L363.86,127.89 L364.42,130.75 L364.97,133.60 L365.53,136.42 L366.09,139.20 L366.65,141.96 L367.21,144.67 L367.76,147.35 L368.32,149.97 L368.88,152.55 L369.44,155.08 L369.99,157.55 L370.55,159.96 L371.11,162.30 L371.67,164.58 L372.23,166.78 L372.78,168.92 L373.34,170.98 L373.90,172.95 L374.46,174.85 L375.02,176.66 L375.57,178.39 L376.13,180.02 L376.69,181.56 L377.25,183.01 L377.81,184.36 L378.36,185.61 L378.92,186.76 L379.48,187.82 L380.04,188.76 L380.59,189.61 L381.15,190.34 L381.71,190.97 L382.27,191.50 L382.83,191.91 L383.38,192.21 L383.94,192.41 L384.50,192.50 L385.06,192.47 L385.62,192.34 L386.17,192.09 L386.73,191.74 L387.29,191.28 L387.85,190.71 L388.41,190.03 L388.96,189.25 L389.52,188.36 L390.08,187.36 L390.64,186.27 L391.20,185.07 L391.75,183.77 L392.31,182.38 L392.87,180.89 L393.43,179.31 L393.98,177.63 L394.54,175.87 L395.10,174.02 L395.66,172.09 L396.22,170.08 L396.77,167.98 L397.33,165.82 L397.89,163.58 L398.45,161.27 L399.01,158.90 L399.56,156.46 L400.12,153.97 L400.68,151.42 L401.24,148.82 L401.80,146.17 L402.35,143.48 L402.91,140.74 L403.47,137.97 L404.03,135.17 L404.58,132.34 L405.14,129.49 L405.70,126.61 L406.26,123.72 L406.82,120.82 L407.37,117.91 L407.93,114.99 L408.49,112.08 L409.05,109.17 L409.61,106.26 L410.16,103.37 L410.72,100.50 L411.28,97.65 L411.84,94.82 L412.40,92.02 L412.95,89.26 L413.51,86.53 L414.07,83.84 L414.63,81.20 L415.18,78.60 L415.74,76.06 L416.30,73.57 L416.86,71.14 L417.42,68.78 L417.97,66.47 L418.53,64.24 L419.09,62.08 L419.65,60.00 L420.21,58.00 L420.76,56.07 L421.32,54.23 L421.88,52.48 L422.44,50.82 L423.00,49.24 L423.55,47.76 L424.11,46.38 L424.67,45.09 L425.23,43.91 L425.78,42.82 L426.34,41.84 L426.90,40.96 L427.46,40.19 L428.02,39.52 L428.57,38.97 L429.13,38.52 L429.69,38.17 L430.25,37.94 L430.81,37.82 L431.36,37.81 L431.92,37.91 L432.48,38.11 L433.04,38.43 L433.60,38.86 L434.15,39.39 L434.71,40.03 L435.27,40.78 L435.83,41.63 L436.38,42.59 L436.94,43.66 L437.50,44.82 L438.06,46.08 L438.62,47.44 L439.17,48.90 L439.73,50.45 L440.29,52.10 L440.85,53.83 L441.41,55.65 L441.96,57.56 L442.52,59.54 L443.08,61.61 L443.64,63.75 L444.20,65.97 L444.75,68.25 L445.31,70.60 L445.87,73.02 L446.43,75.49 L446.99,78.03 L447.54,80.61 L448.10,83.24 L448.66,85.92 L449.22,88.64 L449.77,91.40 L450.33,94.19 L450.89,97.01 L451.45,99.86 L452.01,102.73 L452.56,105.61 L453.12,108.51 L453.68,111.42 L454.24,114.34 L454.80,117.25 L455.35,120.16 L455.91,123.07 L456.47,125.96 L457.03,128.84 L457.59,131.70 L458.14,134.54 L458.70,137.35 L459.26,140.12 L459.82,142.87 L460.37,145.57 L460.93,148.23 L461.49,150.84 L462.05,153.40 L462.61,155.91 L463.16,158.36 L463.72,160.74 L464.28,163.07 L464.84,165.32 L465.40,167.50 L465.95,169.61 L466.51,171.64 L467.07,173.60 L467.63,175.46 L468.19,177.25 L468.74,178.94 L469.30,180.54 L469.86,182.05 L470.42,183.47 L470.97,184.79 L471.53,186.01 L472.09,187.13 L472.65,188.14 L473.21,189.06 L473.76,189.86 L474.32,190.56 L474.88,191.16 L475.44,191.65 L476.00,192.02 L476.55,192.29 L477.11,192.45 L477.67,192.50 L478.23,192.44 L478.79,192.27 L479.34,191.99 L479.90,191.60 L480.46,191.10 L481.02,190.49 L481.57,189.78 L482.13,188.96 L482.69,188.04 L483.25,187.01 L483.81,185.88 L484.36,184.65 L484.92,183.32 L485.48,181.89 L486.04,180.37 L486.60,178.76 L487.15,177.06 L487.71,175.26 L488.27,173.39 L488.83,171.43 L489.39,169.39 L489.94,167.27 L490.50,165.08 L491.06,162.82 L491.62,160.49 L492.17,158.09 L492.73,155.64 L493.29,153.13 L493.85,150.56 L494.41,147.94 L494.96,145.28 L495.52,142.57 L496.08,139.83 L496.64,137.04 L497.20,134.23 L497.75,131.39 L498.31,128.53 L498.87,125.65 L499.43,122.76 L499.99,119.85 L500.54,116.94 L501.10,114.02 L501.66,111.11 L502.22,108.20 L502.78,105.30 L503.33,102.41 L503.89,99.55 L504.45,96.70 L505.01,93.89 L505.56,91.10 L506.12,88.34 L506.68,85.63 L507.24,82.95 L507.80,80.33 L508.35,77.75 L508.91,75.22 L509.47,72.75 L510.03,70.35 L510.59,68.00 L511.14,65.72 L511.70,63.52 L512.26,61.38 L512.82,59.32 L513.38,57.35 L513.93,55.45 L514.49,53.64 L515.05,51.92 L515.61,50.28 L516.16,48.74 L516.72,47.29 L517.28,45.94 L517.84,44.69 L518.40,43.54 L518.95,42.48 L519.51,41.54" fill="none" stroke="#2ca02c" stroke-width="1.70" stroke-linejoin="round" stroke-linecap="square"/>
<path d="M73.75,116.33 L74.31,115.68 L74.87,115.04 L75.42,114.40 L75.98,113.76 L76.54,113.12 L77.10,112.49 L77.66,111.86 L78.21,111.23 L78.77,110.61 L79.33,109.99 L79.89,109.39 L80.44,108.79 L81.00,108.20 L81.56,107.62 L82.12,107.05 L82.68,106.49 L83.23,105.94 L83.79,105.41 L84.35,104.89 L84.91,104.39 L85.47,103.90 L86.02,103.42 L86.58,102.97 L87.14,102.53 L87.70,102.11 L88.26,101.70 L88.81,101.32 L89.37,100.96 L89.93,100.61 L90.49,100.29 L91.04,99.99 L91.60,99.71 L92.16,99.45 L92.72,99.21 L93.28,99.00 L93.83,98.81 L94.39,98.64 L94.95,98.50 L95.51,98.38 L96.07,98.28 L96.62,98.21 L97.18,98.16 L97.74,98.14 L98.30,98.14 L98.86,98.16 L99.41,98.21 L99.97,98.28 L100.53,98.38 L101.09,98.50 L101.64,98.64 L102.20,98.81 L102.76,99.00 L103.32,99.21 L103.88,99.45 L104.43,99.71 L104.99,99.99 L105.55,100.29 L106.11,100.61 L106.67,100.96 L107.22,101.32 L107.78,101.70 L108.34,102.11 L108.90,102.53 L109.46,102.97 L110.01,103.42 L110.57,103.90 L111.13,104.39 L111.69,104.89 L112.25,105.41 L112.80,105.94 L113.36,106.49 L113.92,107.05 L114.48,107.62 L115.03,108.20 L115.59,108.79 L116.15,109.39 L116.71,109.99 L117.27,110.61 L117.82,111.23 L118.38,111.86 L118.94,112.49 L119.50,113.12 L120.06,113.76 L120.61,114.40 L121.17,115.04 L121.73,115.68 L122.29,116.33 L122.85,116.96 L123.40,117.60 L123.96,118.23 L124.52,118.86 L125.08,119.49 L125.63,120.10 L126.19,120.71 L126.75,121.31 L127.31,121.91 L127.87,122.49 L128.42,123.07 L128.98,123.63 L129.54,124.18 L130.10,124.71 L130.66,125.24 L131.21,125.75 L131.77,126.24 L132.33,126.72 L132.89,127.18 L133.45,127.63 L134.00,128.05 L134.56,128.46 L135.12,128.85 L135.68,129.22 L136.23,129.57 L136.79,129.90 L137.35,130.21 L137.91,130.50 L138.47,130.77 L139.02,131.01 L139.58,131.23 L140.14,131.43 L140.70,131.61 L141.26,131.76 L141.81,131.89 L142.37,131.99 L142.93,132.07 L143.49,132.13 L144.05,132.16 L144.60,132.17 L145.16,132.15 L145.72,132.11 L146.28,132.05 L146.83,131.96 L147.39,131.85 L147.95,131.71 L148.51,131.55 L149.07,131.37 L149.62,131.16 L150.18,130.93 L150.74,130.68 L151.30,130.41 L151.86,130.11 L152.41,129.80 L152.97,129.46 L153.53,129.10 L154.09,128.73 L154.65,128.33 L155.20,127.91 L155.76,127.48 L156.32,127.03 L156.88,126.56 L157.44,126.08 L157.99,125.58 L158.55,125.07 L159.11,124.54 L159.67,124.00 L160.22,123.44 L160.78,122.88 L161.34,122.30 L161.90,121.71 L162.46,121.12 L163.01,120.51 L163.57,119.90 L164.13,119.28 L164.69,118.65 L165.25,118.02 L165.80,117.39 L166.36,116.75 L166.92,116.11 L167.48,115.47 L168.04,114.83 L168.59,114.19 L169.15,113.55 L169.71,112.91 L170.27,112.28 L170.82,111.65 L171.38,111.02 L171.94,110.40 L172.50,109.79 L173.06,109.19 L173.61,108.59 L174.17,108.00 L174.73,107.42 L175.29,106.86 L175.85,106.30 L176.40,105.76 L176.96,105.23 L177.52,104.72 L178.08,104.22 L178.64,103.74 L179.19,103.27 L179.75,102.82 L180.31,102.39 L180.87,101.97 L181.42,101.57 L181.98,101.20 L182.54,100.84 L183.10,100.50 L183.66,100.19 L184.21,99.89 L184.77,99.62 L185.33,99.37 L185.89,99.14 L186.45,98.93 L187.00,98.75 L187.56,98.59 L188.12,98.45 L188.68,98.34 L189.24,98.25 L189.79,98.19 L190.35,98.15 L190.91,98.13 L191.47,98.14 L192.02,98.17 L192.58,98.23 L193.14,98.31 L193.70,98.41 L194.26,98.54 L194.81,98.69 L195.37,98.87 L195.93,99.07 L196.49,99.29 L197.05,99.53 L197.60,99.80 L198.16,100.09 L198.72,100.39 L199.28,100.72 L199.84,101.08 L200.39,101.45 L200.95,101.84 L201.51,102.24 L202.07,102.67 L202.62,103.12 L203.18,103.58 L203.74,104.06 L204.30,104.55 L204.86,105.06 L205.41,105.58 L205.97,106.12 L206.53,106.67 L207.09,107.23 L207.65,107.81 L208.20,108.39 L208.76,108.98 L209.32,109.59 L209.88,110.20 L210.44,110.81 L210.99,111.44 L211.55,112.07 L212.11,112.70 L212.67,113.34 L213.22,113.97 L213.78,114.62 L214.34,115.26 L214.90,115.90 L215.46,116.54 L216.01,117.18 L216.57,117.81 L217.13,118.44 L217.69,119.07 L218.25,119.69 L218.80,120.31 L219.36,120.91 L219.92,121.51 L220.48,122.10 L221.04,122.68 L221.59,123.25 L222.15,123.81 L222.71,124.36 L223.27,124.89 L223.83,125.41 L224.38,125.91 L224.94,126.40 L225.50,126.88 L226.06,127.33 L226.61,127.77 L227.17,128.19 L227.73,128.60 L228.29,128.98 L228.85,129.34 L229.40,129.69 L229.96,130.01 L230.52,130.31 L231.08,130.59 L231.64,130.85 L232.19,131.09 L232.75,131.30 L233.31,131.49 L233.87,131.66 L234.43,131.80 L234.98,131.92 L235.54,132.02 L236.10,132.09 L236.66,132.14 L237.21,132.16 L237.77,132.16 L238.33,132.14 L238.89,132.09 L239.45,132.02 L240.00,131.92 L240.56,131.80 L241.12,131.66 L241.68,131.49 L242.24,131.30 L242.79,131.09 L243.35,130.85 L243.91,130.59 L244.47,130.31 L245.03,130.01 L245.58,129.69 L246.14,129.34 L246.70,128.98 L247.26,128.60 L247.81,128.19 L248.37,127.77 L248.93,127.33 L249.49,126.88 L250.05,126.40 L250.60,125.91 L251.16,125.41 L251.72,124.89 L252.28,124.36 L252.84,123.81 L253.39,123.25 L253.95,122.68 L254.51,122.10 L255.07,121.51 L255.63,120.91 L256.18,120.31 L256.74,119.69 L257.30,119.07 L257.86,118.44 L258.41,117.81 L258.97,117.18 L259.53,116.54 L260.09,115.90 L260.65,115.26 L261.20,114.62 L261.76,113.98 L262.32,113.34 L262.88,112.70 L263.44,112.07 L263.99,111.44 L264.55,110.81 L265.11,110.20 L265.67,109.59 L266.23,108.99 L266.78,108.39 L267.34,107.81 L267.90,107.23 L268.46,106.67 L269.01,106.12 L269.57,105.59 L270.13,105.06 L270.69,104.55 L271.25,104.06 L271.80,103.58 L272.36,103.12 L272.92,102.67 L273.48,102.25 L274.04,101.84 L274.59,101.45 L275.15,101.08 L275.71,100.73 L276.27,100.40 L276.83,100.09 L277.38,99.80 L277.94,99.53 L278.50,99.29 L279.06,99.07 L279.62,98.87 L280.17,98.69 L280.73,98.54 L281.29,98.41 L281.85,98.31 L282.40,98.23 L282.96,98.17 L283.52,98.14 L284.08,98.13 L284.64,98.15 L285.19,98.19 L285.75,98.25 L286.31,98.34 L286.87,98.45 L287.43,98.59 L287.98,98.75 L288.54,98.93 L289.10,99.14 L289.66,99.37 L290.22,99.62 L290.77,99.89 L291.33,100.19 L291.89,100.50 L292.45,100.84 L293.00,101.20 L293.56,101.57 L294.12,101.97 L294.68,102.39 L295.24,102.82 L295.79,103.27 L296.35,103.74 L296.91,104.22 L297.47,104.72 L298.03,105.23 L298.58,105.76 L299.14,106.30 L299.70,106.86 L300.26,107.42 L300.82,108.00 L301.37,108.59 L301.93,109.18 L302.49,109.79 L303.05,110.40 L303.60,111.02 L304.16,111.65 L304.72,112.28 L305.28,112.91 L305.84,113.55 L306.39,114.19 L306.95,114.83 L307.51,115.47 L308.07,116.11 L308.63,116.75 L309.18,117.39 L309.74,118.02 L310.30,118.65 L310.86,119.28 L311.42,119.90 L311.97,120.51 L312.53,121.11 L313.09,121.71 L313.65,122.30 L314.20,122.88 L314.76,123.44 L315.32,124.00 L315.88,124.54 L316.44,125.07 L316.99,125.58 L317.55,126.08 L318.11,126.56 L318.67,127.03 L319.23,127.48 L319.78,127.91 L320.34,128.33 L320.90,128.73 L321.46,129.10 L322.02,129.46 L322.57,129.80 L323.13,130.11 L323.69,130.41 L324.25,130.68 L324.80,130.93 L325.36,131.16 L325.92,131.37 L326.48,131.55 L327.04,131.71 L327.59,131.85 L328.15,131.96 L328.71,132.05 L329.27,132.11 L329.83,132.15 L330.38,132.17 L330.94,132.16 L331.50,132.13 L332.06,132.07 L332.62,131.99 L333.17,131.89 L333.73,131.76 L334.29,131.61 L334.85,131.43 L335.41,131.23 L335.96,131.01 L336.52,130.77 L337.08,130.50 L337.64,130.21 L338.19,129.91 L338.75,129.58 L339.31,129.22 L339.87,128.85 L340.43,128.46 L340.98,128.06 L341.54,127.63 L342.10,127.18 L342.66,126.72 L343.22,126.24 L343.77,125.75 L344.33,125.24 L344.89,124.72 L345.45,124.18 L346.01,123.63 L346.56,123.07 L347.12,122.49 L347.68,121.91 L348.24,121.32 L348.79,120.71 L349.35,120.10 L349.91,119.49 L350.47,118.86 L351.03,118.23 L351.58,117.60 L352.14,116.96 L352.70,116.33 L353.26,115.69 L353.82,115.04 L354.37,114.40 L354.93,113.76 L355.49,113.12 L356.05,112.49 L356.61,111.86 L357.16,111.23 L357.72,110.61 L358.28,109.99 L358.84,109.39 L359.39,108.79 L359.95,108.20 L360.51,107.62 L361.07,107.05 L361.63,106.49 L362.18,105.94 L362.74,105.41 L363.30,104.89 L363.86,104.39 L364.42,103.90 L364.97,103.42 L365.53,102.97 L366.09,102.53 L366.65,102.11 L367.21,101.70 L367.76,101.32 L368.32,100.96 L368.88,100.61 L369.44,100.29 L369.99,99.99 L370.55,99.71 L371.11,99.45 L371.67,99.21 L372.23,99.00 L372.78,98.81 L373.34,98.64 L373.90,98.50 L374.46,98.38 L375.02,98.28 L375.57,98.21 L376.13,98.16 L376.69,98.14 L377.25,98.14 L377.81,98.16 L378.36,98.21 L378.92,98.28 L379.48,98.38 L380.04,98.50 L380.59,98.64 L381.15,98.81 L381.71,99.00 L382.27,99.21 L382.83,99.45 L383.38,99.71 L383.94,99.99 L384.50,100.29 L385.06,100.61 L385.62,100.96 L386.17,101.32 L386.73,101.70 L387.29,102.11 L387.85,102.53 L388.41,102.97 L388.96,103.42 L389.52,103.90 L390.08,104.39 L390.64,104.89 L391.20,105.41 L391.75,105.94 L392.31,106.49 L392.87,107.05 L393.43,107.61 L393.98,108.20 L394.54,108.79 L395.10,109.39 L395.66,109.99 L396.22,110.61 L396.77,111.23 L397.33,111.86 L397.89,112.49 L398.45,113.12 L399.01,113.76 L399.56,114.40 L400.12,115.04 L400.68,115.68 L401.24,116.32 L401.80,116.96 L402.35,117.60 L402.91,118.23 L403.47,118.86 L404.03,119.48 L404.58,120.10 L405.14,120.71 L405.70,121.31 L406.26,121.91 L406.82,122.49 L407.37,123.06 L407.93,123.63 L408.49,124.18 L409.05,124.71 L409.61,125.24 L410.16,125.75 L410.72,126.24 L411.28,126.72 L411.84,127.18 L412.40,127.63 L412.95,128.05 L413.51,128.46 L414.07,128.85 L414.63,129.22 L415.18,129.57 L415.74,129.90 L416.30,130.21 L416.86,130.50 L417.42,130.77 L417.97,131.01 L418.53,131.23 L419.09,131.43 L419.65,131.61 L420.21,131.76 L420.76,131.89 L421.32,131.99 L421.88,132.07 L422.44,132.13 L423.00,132.16 L423.55,132.17 L424.11,132.15 L424.67,132.11 L425.23,132.05 L425.78,131.96 L426.34,131.85 L426.90,131.71 L427.46,131.55 L428.02,131.37 L428.57,131.16 L429.13,130.93 L429.69,130.68 L430.25,130.41 L430.81,130.11 L431.36,129.80 L431.92,129.46 L432.48,129.10 L433.04,128.73 L433.60,128.33 L434.15,127.92 L434.71,127.48 L435.27,127.03 L435.83,126.56 L436.38,126.08 L436.94,125.58 L437.50,125.07 L438.06,124.54 L438.62,124.00 L439.17,123.44 L439.73,122.88 L440.29,122.30 L440.85,121.71 L441.41,121.12 L441.96,120.51 L442.52,119.90 L443.08,119.28 L443.64,118.65 L444.20,118.02 L444.75,117.39 L445.31,116.75 L445.87,116.11 L446.43,115.47 L446.99,114.83 L447.54,114.19 L448.10,113.55 L448.66,112.91 L449.22,112.28 L449.77,111.65 L450.33,111.02 L450.89,110.40 L451.45,109.79 L452.01,109.19 L452.56,108.59 L453.12,108.00 L453.68,107.43 L454.24,106.86 L454.80,106.30 L455.35,105.76 L455.91,105.24 L456.47,104.72 L457.03,104.22 L457.59,103.74 L458.14,103.27 L458.70,102.82 L459.26,102.39 L459.82,101.97 L460.37,101.57 L460.93,101.20 L461.49,100.84 L462.05,100.50 L462.61,100.19 L463.16,99.89 L463.72,99.62 L464.28,99.37 L464.84,99.14 L465.40,98.93 L465.95,98.75 L466.51,98.59 L467.07,98.45 L467.63,98.34 L468.19,98.25 L468.74,98.19 L469.30,98.15 L469.86,98.13 L470.42,98.14 L470.97,98.17 L471.53,98.23 L472.09,98.31 L472.65,98.41 L473.21,98.54 L473.76,98.69 L474.32,98.87 L474.88,99.07 L475.44,99.29 L476.00,99.53 L476.55,99.80 L477.11,100.09 L477.67,100.39 L478.23,100.72 L478.79,101.08 L479.34,101.45 L479.90,101.84 L480.46,102.24 L481.02,102.67 L481.57,103.12 L482.13,103.58 L482.69,104.06 L483.25,104.55 L483.81,105.06 L484.36,105.58 L484.92,106.12 L485.48,106.67 L486.04,107.23 L486.60,107.81 L487.15,108.39 L487.71,108.98 L488.27,109.59 L488.83,110.20 L489.39,110.81 L489.94,111.44 L490.50,112.07 L491.06,112.70 L491.62,113.33 L492.17,113.97 L492.73,114.61 L493.29,115.26 L493.85,115.90 L494.41,116.54 L494.96,117.18 L495.52,117.81 L496.08,118.44 L496.64,119.07 L497.20,119.69 L497.75,120.31 L498.31,120.91 L498.87,121.51 L499.43,122.10 L499.99,122.68 L500.54,123.25 L501.10,123.81 L501.66,124.36 L502.22,124.89 L502.78,125.41 L503.33,125.91 L503.89,126.40 L504.45,126.88 L505.01,127.33 L505.56,127.77 L506.12,128.19 L506.68,128.60 L507.24,128.98 L507.80,129.34 L508.35,129.69 L508.91,130.01 L509.47,130.31 L510.03,130.59 L510.59,130.85 L511.14,131.09 L511.70,131.30 L512.26,131.49 L512.82,131.66 L513.38,131.80 L513.93,131.92 L514.49,132.02 L515.05,132.09 L515.61,132.14 L516.16,132.16 L516.72,132.16 L517.28,132.14 L517.84,132.09 L518.40,132.02 L518.95,131.92 L519.51,131.80" fill="none" stroke="#d62728" stroke-width="1.70" stroke-linejoin="round" stroke-linecap="square"/>
<path d="M73.75,128.52 L74.31,128.85 L74.87,129.16 L75.42,129.45 L75.98,129.72 L76.54,129.97 L77.10,130.20 L77.66,130.41 L78.21,130.60 L78.77,130.76 L79.33,130.90 L79.89,131.02 L80.44,131.12 L81.00,131.20 L81.56,131.25 L82.12,131.28 L82.68,131.28 L83.23,131.27 L83.79,131.23 L84.35,131.16 L84.91,131.08 L85.47,130.97 L86.02,130.84 L86.58,130.69 L87.14,130.51 L87.70,130.32 L88.26,130.10 L88.81,129.86 L89.37,129.60 L89.93,129.32 L90.49,129.02 L91.04,128.69 L91.60,128.35 L92.16,128.00 L92.72,127.62 L93.28,127.22 L93.83,126.81 L94.39,126.38 L94.95,125.94 L95.51,125.48 L96.07,125.01 L96.62,124.52 L97.18,124.02 L97.74,123.50 L98.30,122.98 L98.86,122.44 L99.41,121.89 L99.97,121.33 L100.53,120.77 L101.09,120.19 L101.64,119.61 L102.20,119.02 L102.76,118.43 L103.32,117.83 L103.88,117.23 L104.43,116.63 L104.99,116.02 L105.55,115.41 L106.11,114.81 L106.67,114.20 L107.22,113.59 L107.78,112.99 L108.34,112.39 L108.90,111.79 L109.46,111.20 L110.01,110.61 L110.57,110.03 L111.13,109.46 L111.69,108.89 L112.25,108.34 L112.80,107.79 L113.36,107.25 L113.92,106.73 L114.48,106.22 L115.03,105.72 L115.59,105.23 L116.15,104.76 L116.71,104.30 L117.27,103.86 L117.82,103.43 L118.38,103.02 L118.94,102.63 L119.50,102.25 L120.06,101.90 L120.61,101.56 L121.17,101.24 L121.73,100.94 L122.29,100.67 L122.85,100.41 L123.40,100.17 L123.96,99.96 L124.52,99.76 L125.08,99.59 L125.63,99.44 L126.19,99.31 L126.75,99.21 L127.31,99.13 L127.87,99.07 L128.42,99.03 L128.98,99.02 L129.54,99.03 L130.10,99.06 L130.66,99.11 L131.21,99.19 L131.77,99.29 L132.33,99.41 L132.89,99.56 L133.45,99.73 L134.00,99.92 L134.56,100.13 L135.12,100.36 L135.68,100.61 L136.23,100.89 L136.79,101.18 L137.35,101.50 L137.91,101.83 L138.47,102.18 L139.02,102.55 L139.58,102.94 L140.14,103.35 L140.70,103.77 L141.26,104.21 L141.81,104.66 L142.37,105.13 L142.93,105.62 L143.49,106.12 L144.05,106.63 L144.60,107.15 L145.16,107.68 L145.72,108.23 L146.28,108.78 L146.83,109.34 L147.39,109.91 L147.95,110.49 L148.51,111.08 L149.07,111.67 L149.62,112.27 L150.18,112.87 L150.74,113.47 L151.30,114.08 L151.86,114.68 L152.41,115.29 L152.97,115.90 L153.53,116.51 L154.09,117.11 L154.65,117.71 L155.20,118.31 L155.76,118.91 L156.32,119.49 L156.88,120.08 L157.44,120.65 L157.99,121.22 L158.55,121.78 L159.11,122.33 L159.67,122.87 L160.22,123.40 L160.78,123.91 L161.34,124.42 L161.90,124.91 L162.46,125.39 L163.01,125.85 L163.57,126.30 L164.13,126.73 L164.69,127.14 L165.25,127.54 L165.80,127.92 L166.36,128.28 L166.92,128.63 L167.48,128.95 L168.04,129.26 L168.59,129.54 L169.15,129.81 L169.71,130.05 L170.27,130.27 L170.82,130.47 L171.38,130.65 L171.94,130.81 L172.50,130.95 L173.06,131.06 L173.61,131.15 L174.17,131.22 L174.73,131.26 L175.29,131.28 L175.85,131.28 L176.40,131.25 L176.96,131.21 L177.52,131.14 L178.08,131.04 L178.64,130.93 L179.19,130.79 L179.75,130.63 L180.31,130.45 L180.87,130.25 L181.42,130.02 L181.98,129.77 L182.54,129.51 L183.10,129.22 L183.66,128.91 L184.21,128.58 L184.77,128.24 L185.33,127.87 L185.89,127.49 L186.45,127.09 L187.00,126.67 L187.56,126.24 L188.12,125.79 L188.68,125.32 L189.24,124.84 L189.79,124.35 L190.35,123.85 L190.91,123.33 L191.47,122.80 L192.02,122.26 L192.58,121.71 L193.14,121.15 L193.70,120.58 L194.26,120.00 L194.81,119.42 L195.37,118.83 L195.93,118.23 L196.49,117.63 L197.05,117.03 L197.60,116.43 L198.16,115.82 L198.72,115.21 L199.28,114.60 L199.84,114.00 L200.39,113.39 L200.95,112.79 L201.51,112.19 L202.07,111.59 L202.62,111.00 L203.18,110.42 L203.74,109.84 L204.30,109.27 L204.86,108.71 L205.41,108.15 L205.97,107.61 L206.53,107.08 L207.09,106.56 L207.65,106.05 L208.20,105.55 L208.76,105.07 L209.32,104.60 L209.88,104.15 L210.44,103.71 L210.99,103.29 L211.55,102.89 L212.11,102.50 L212.67,102.13 L213.22,101.78 L213.78,101.45 L214.34,101.14 L214.90,100.85 L215.46,100.58 L216.01,100.33 L216.57,100.10 L217.13,99.89 L217.69,99.70 L218.25,99.54 L218.80,99.40 L219.36,99.28 L219.92,99.18 L220.48,99.10 L221.04,99.05 L221.59,99.02 L222.15,99.02 L222.71,99.03 L223.27,99.07 L223.83,99.14 L224.38,99.22 L224.94,99.33 L225.50,99.46 L226.06,99.61 L226.61,99.79 L227.17,99.98 L227.73,100.20 L228.29,100.44 L228.85,100.70 L229.40,100.98 L229.96,101.28 L230.52,101.60 L231.08,101.94 L231.64,102.30 L232.19,102.68 L232.75,103.08 L233.31,103.49 L233.87,103.92 L234.43,104.36 L234.98,104.82 L235.54,105.29 L236.10,105.78 L236.66,106.28 L237.21,106.80 L237.77,107.32 L238.33,107.86 L238.89,108.41 L239.45,108.97 L240.00,109.53 L240.56,110.11 L241.12,110.69 L241.68,111.28 L242.24,111.87 L242.79,112.47 L243.35,113.07 L243.91,113.67 L244.47,114.28 L245.03,114.89 L245.58,115.49 L246.14,116.10 L246.70,116.71 L247.26,117.31 L247.81,117.91 L248.37,118.51 L248.93,119.10 L249.49,119.69 L250.05,120.27 L250.60,120.84 L251.16,121.41 L251.72,121.96 L252.28,122.51 L252.84,123.05 L253.39,123.57 L253.95,124.08 L254.51,124.58 L255.07,125.07 L255.63,125.54 L256.18,126.00 L256.74,126.44 L257.30,126.87 L257.86,127.28 L258.41,127.67 L258.97,128.05 L259.53,128.40 L260.09,128.74 L260.65,129.06 L261.20,129.36 L261.76,129.63 L262.32,129.89 L262.88,130.13 L263.44,130.34 L263.99,130.54 L264.55,130.71 L265.11,130.86 L265.67,130.99 L266.23,131.09 L266.78,131.17 L267.34,131.23 L267.90,131.27 L268.46,131.28 L269.01,131.27 L269.57,131.24 L270.13,131.19 L270.69,131.11 L271.25,131.01 L271.80,130.89 L272.36,130.74 L272.92,130.57 L273.48,130.38 L274.04,130.17 L274.59,129.94 L275.15,129.69 L275.71,129.41 L276.27,129.12 L276.83,128.80 L277.38,128.47 L277.94,128.12 L278.50,127.75 L279.06,127.36 L279.62,126.95 L280.17,126.53 L280.73,126.09 L281.29,125.64 L281.85,125.17 L282.40,124.68 L282.96,124.18 L283.52,123.67 L284.08,123.15 L284.64,122.62 L285.19,122.07 L285.75,121.52 L286.31,120.96 L286.87,120.39 L287.43,119.81 L287.98,119.22 L288.54,118.63 L289.10,118.03 L289.66,117.43 L290.22,116.83 L290.77,116.22 L291.33,115.62 L291.89,115.01 L292.45,114.40 L293.00,113.79 L293.56,113.19 L294.12,112.59 L294.68,111.99 L295.24,111.39 L295.79,110.81 L296.35,110.22 L296.91,109.65 L297.47,109.08 L298.03,108.52 L298.58,107.97 L299.14,107.43 L299.70,106.90 L300.26,106.39 L300.82,105.88 L301.37,105.39 L301.93,104.91 L302.49,104.45 L303.05,104.00 L303.60,103.57 L304.16,103.16 L304.72,102.76 L305.28,102.38 L305.84,102.02 L306.39,101.67 L306.95,101.35 L307.51,101.04 L308.07,100.76 L308.63,100.49 L309.18,100.25 L309.74,100.03 L310.30,99.83 L310.86,99.65 L311.42,99.49 L311.97,99.35 L312.53,99.24 L313.09,99.15 L313.65,99.08 L314.20,99.04 L314.76,99.02 L315.32,99.02 L315.88,99.05 L316.44,99.09 L316.99,99.16 L317.55,99.26 L318.11,99.37 L318.67,99.51 L319.23,99.67 L319.78,99.85 L320.34,100.05 L320.90,100.28 L321.46,100.53 L322.02,100.79 L322.57,101.08 L323.13,101.39 L323.69,101.72 L324.25,102.06 L324.80,102.43 L325.36,102.81 L325.92,103.21 L326.48,103.63 L327.04,104.06 L327.59,104.51 L328.15,104.98 L328.71,105.45 L329.27,105.95 L329.83,106.45 L330.38,106.97 L330.94,107.50 L331.50,108.04 L332.06,108.59 L332.62,109.15 L333.17,109.72 L333.73,110.30 L334.29,110.88 L334.85,111.47 L335.41,112.07 L335.96,112.67 L336.52,113.27 L337.08,113.87 L337.64,114.48 L338.19,115.09 L338.75,115.70 L339.31,116.30 L339.87,116.91 L340.43,117.51 L340.98,118.11 L341.54,118.71 L342.10,119.30 L342.66,119.88 L343.22,120.46 L343.77,121.03 L344.33,121.59 L344.89,122.15 L345.45,122.69 L346.01,123.22 L346.56,123.74 L347.12,124.25 L347.68,124.75 L348.24,125.23 L348.79,125.70 L349.35,126.15 L349.91,126.59 L350.47,127.01 L351.03,127.41 L351.58,127.80 L352.14,128.17 L352.70,128.52 L353.26,128.85 L353.82,129.16 L354.37,129.45 L354.93,129.72 L355.49,129.97 L356.05,130.20 L356.61,130.41 L357.16,130.60 L357.72,130.76 L358.28,130.90 L358.84,131.02 L359.39,131.12 L359.95,131.20 L360.51,131.25 L361.07,131.28 L361.63,131.28 L362.18,131.27 L362.74,131.23 L363.30,131.16 L363.86,131.08 L364.42,130.97 L364.97,130.84 L365.53,130.69 L366.09,130.51 L366.65,130.32 L367.21,130.10 L367.76,129.86 L368.32,129.60 L368.88,129.32 L369.44,129.02 L369.99,128.70 L370.55,128.36 L371.11,128.00 L371.67,127.62 L372.23,127.23 L372.78,126.81 L373.34,126.38 L373.90,125.94 L374.46,125.48 L375.02,125.01 L375.57,124.52 L376.13,124.02 L376.69,123.50 L377.25,122.98 L377.81,122.44 L378.36,121.89 L378.92,121.33 L379.48,120.77 L380.04,120.19 L380.59,119.61 L381.15,119.03 L381.71,118.43 L382.27,117.83 L382.83,117.23 L383.38,116.63 L383.94,116.02 L384.50,115.41 L385.06,114.81 L385.62,114.20 L386.17,113.59 L386.73,112.99 L387.29,112.39 L387.85,111.79 L388.41,111.20 L388.96,110.61 L389.52,110.03 L390.08,109.46 L390.64,108.89 L391.20,108.34 L391.75,107.79 L392.31,107.25 L392.87,106.73 L393.43,106.22 L393.98,105.72 L394.54,105.23 L395.10,104.76 L395.66,104.30 L396.22,103.86 L396.77,103.43 L397.33,103.02 L397.89,102.63 L398.45,102.26 L399.01,101.90 L399.56,101.56 L400.12,101.24 L400.68,100.95 L401.24,100.67 L401.80,100.41 L402.35,100.17 L402.91,99.96 L403.47,99.76 L404.03,99.59 L404.58,99.44 L405.14,99.31 L405.70,99.21 L406.26,99.13 L406.82,99.07 L407.37,99.03 L407.93,99.02 L408.49,99.03 L409.05,99.06 L409.61,99.11 L410.16,99.19 L410.72,99.29 L411.28,99.41 L411.84,99.56 L412.40,99.73 L412.95,99.92 L413.51,100.13 L414.07,100.36 L414.63,100.61 L415.18,100.89 L415.74,101.18 L416.30,101.50 L416.86,101.83 L417.42,102.18 L417.97,102.55 L418.53,102.94 L419.09,103.35 L419.65,103.77 L420.21,104.21 L420.76,104.66 L421.32,105.13 L421.88,105.62 L422.44,106.11 L423.00,106.63 L423.55,107.15 L424.11,107.68 L424.67,108.23 L425.23,108.78 L425.78,109.34 L426.34,109.91 L426.90,110.49 L427.46,111.08 L428.02,111.67 L428.57,112.27 L429.13,112.87 L429.69,113.47 L430.25,114.08 L430.81,114.68 L431.36,115.29 L431.92,115.90 L432.48,116.51 L433.04,117.11 L433.60,117.71 L434.15,118.31 L434.71,118.91 L435.27,119.49 L435.83,120.08 L436.38,120.65 L436.94,121.22 L437.50,121.78 L438.06,122.33 L438.62,122.87 L439.17,123.40 L439.73,123.91 L440.29,124.42 L440.85,124.91 L441.41,125.39 L441.96,125.85 L442.52,126.30 L443.08,126.73 L443.64,127.14 L444.20,127.54 L444.75,127.92 L445.31,128.28 L445.87,128.63 L446.43,128.95 L446.99,129.26 L447.54,129.54 L448.10,129.81 L448.66,130.05 L449.22,130.27 L449.77,130.47 L450.33,130.65 L450.89,130.81 L451.45,130.95 L452.01,131.06 L452.56,131.15 L453.12,131.22 L453.68,131.26 L454.24,131.28 L454.80,131.28 L455.35,131.25 L455.91,131.21 L456.47,131.14 L457.03,131.04 L457.59,130.93 L458.14,130.79 L458.70,130.63 L459.26,130.45 L459.82,130.25 L460.37,130.02 L460.93,129.77 L461.49,129.51 L462.05,129.22 L462.61,128.91 L463.16,128.58 L463.72,128.24 L464.28,127.87 L464.84,127.49 L465.40,127.09 L465.95,126.67 L466.51,126.24 L467.07,125.79 L467.63,125.32 L468.19,124.85 L468.74,124.35 L469.30,123.85 L469.86,123.33 L470.42,122.80 L470.97,122.26 L471.53,121.71 L472.09,121.15 L472.65,120.58 L473.21,120.00 L473.76,119.42 L474.32,118.83 L474.88,118.23 L475.44,117.63 L476.00,117.03 L476.55,116.43 L477.11,115.82 L477.67,115.21 L478.23,114.60 L478.79,114.00 L479.34,113.39 L479.90,112.79 L480.46,112.19 L481.02,111.59 L481.57,111.00 L482.13,110.42 L482.69,109.84 L483.25,109.27 L483.81,108.71 L484.36,108.15 L484.92,107.61 L485.48,107.08 L486.04,106.56 L486.60,106.05 L487.15,105.55 L487.71,105.07 L488.27,104.60 L488.83,104.15 L489.39,103.71 L489.94,103.29 L490.50,102.89 L491.06,102.50 L491.62,102.13 L492.17,101.78 L492.73,101.45 L493.29,101.14 L493.85,100.85 L494.41,100.58 L494.96,100.33 L495.52,100.10 L496.08,99.89 L496.64,99.70 L497.20,99.54 L497.75,99.40 L498.31,99.28 L498.87,99.18 L499.43,99.10 L499.99,99.05 L500.54,99.02 L501.10,99.02 L501.66,99.03 L502.22,99.07 L502.78,99.14 L503.33,99.22 L503.89,99.33 L504.45,99.46 L505.01,99.61 L505.56,99.79 L506.12,99.98 L506.68,100.20 L507.24,100.44 L507.80,100.70 L508.35,100.98 L508.91,101.28 L509.47,101.60 L510.03,101.94 L510.59,102.30 L511.14,102.68 L511.70,103.07 L512.26,103.49 L512.82,103.91 L513.38,104.36 L513.93,104.82 L514.49,105.29 L515.05,105.78 L515.61,106.28 L516.16,106.80 L516.72,107.32 L517.28,107.86 L517.84,108.41 L518.40,108.97 L518.95,109.53 L519.51,110.11" fill="none" stroke="#9467bd" stroke-width="1.70" stroke-linejoin="round" stroke-linecap="square"/>
<path d="M73.75,98.31 L74.31,98.55 L74.87,98.81 L75.42,99.10 L75.98,99.41 L76.54,99.74 L77.10,100.10 L77.66,100.47 L78.21,100.87 L78.77,101.29 L79.33,101.72 L79.89,102.18 L80.44,102.65 L81.00,103.14 L81.56,103.65 L82.12,104.18 L82.68,104.72 L83.23,105.28 L83.79,105.84 L84.35,106.43 L84.91,107.02 L85.47,107.63 L86.02,108.25 L86.58,108.88 L87.14,109.51 L87.70,110.16 L88.26,110.81 L88.81,111.47 L89.37,112.13 L89.93,112.80 L90.49,113.47 L91.04,114.14 L91.60,114.81 L92.16,115.49 L92.72,116.16 L93.28,116.83 L93.83,117.51 L94.39,118.17 L94.95,118.84 L95.51,119.49 L96.07,120.14 L96.62,120.79 L97.18,121.43 L97.74,122.05 L98.30,122.67 L98.86,123.28 L99.41,123.87 L99.97,124.46 L100.53,125.03 L101.09,125.58 L101.64,126.12 L102.20,126.65 L102.76,127.16 L103.32,127.65 L103.88,128.12 L104.43,128.58 L104.99,129.01 L105.55,129.43 L106.11,129.83 L106.67,130.20 L107.22,130.56 L107.78,130.89 L108.34,131.20 L108.90,131.49 L109.46,131.75 L110.01,131.99 L110.57,132.21 L111.13,132.40 L111.69,132.57 L112.25,132.71 L112.80,132.83 L113.36,132.92 L113.92,132.99 L114.48,133.03 L115.03,133.05 L115.59,133.04 L116.15,133.01 L116.71,132.95 L117.27,132.86 L117.82,132.75 L118.38,132.62 L118.94,132.46 L119.50,132.28 L120.06,132.07 L120.61,131.83 L121.17,131.58 L121.73,131.30 L122.29,131.00 L122.85,130.67 L123.40,130.32 L123.96,129.96 L124.52,129.57 L125.08,129.16 L125.63,128.73 L126.19,128.28 L126.75,127.81 L127.31,127.32 L127.87,126.82 L128.42,126.30 L128.98,125.76 L129.54,125.21 L130.10,124.65 L130.66,124.07 L131.21,123.48 L131.77,122.87 L132.33,122.26 L132.89,121.64 L133.45,121.00 L134.00,120.36 L134.56,119.71 L135.12,119.05 L135.68,118.39 L136.23,117.73 L136.79,117.06 L137.35,116.39 L137.91,115.71 L138.47,115.04 L139.02,114.36 L139.58,113.69 L140.14,113.02 L140.70,112.35 L141.26,111.69 L141.81,111.03 L142.37,110.37 L142.93,109.73 L143.49,109.09 L144.05,108.46 L144.60,107.83 L145.16,107.22 L145.72,106.62 L146.28,106.04 L146.83,105.46 L147.39,104.90 L147.95,104.36 L148.51,103.83 L149.07,103.31 L149.62,102.81 L150.18,102.33 L150.74,101.87 L151.30,101.43 L151.86,101.01 L152.41,100.60 L152.97,100.22 L153.53,99.86 L154.09,99.52 L154.65,99.20 L155.20,98.91 L155.76,98.63 L156.32,98.38 L156.88,98.16 L157.44,97.96 L157.99,97.78 L158.55,97.63 L159.11,97.51 L159.67,97.40 L160.22,97.33 L160.78,97.28 L161.34,97.25 L161.90,97.25 L162.46,97.28 L163.01,97.33 L163.57,97.40 L164.13,97.51 L164.69,97.63 L165.25,97.78 L165.80,97.96 L166.36,98.16 L166.92,98.38 L167.48,98.63 L168.04,98.91 L168.59,99.20 L169.15,99.52 L169.71,99.86 L170.27,100.22 L170.82,100.60 L171.38,101.01 L171.94,101.43 L172.50,101.87 L173.06,102.33 L173.61,102.81 L174.17,103.31 L174.73,103.83 L175.29,104.36 L175.85,104.90 L176.40,105.46 L176.96,106.04 L177.52,106.62 L178.08,107.22 L178.64,107.83 L179.19,108.46 L179.75,109.09 L180.31,109.73 L180.87,110.37 L181.42,111.03 L181.98,111.69 L182.54,112.35 L183.10,113.02 L183.66,113.69 L184.21,114.36 L184.77,115.04 L185.33,115.71 L185.89,116.39 L186.45,117.06 L187.00,117.73 L187.56,118.39 L188.12,119.05 L188.68,119.71 L189.24,120.36 L189.79,121.00 L190.35,121.64 L190.91,122.26 L191.47,122.87 L192.02,123.48 L192.58,124.07 L193.14,124.65 L193.70,125.21 L194.26,125.76 L194.81,126.30 L195.37,126.82 L195.93,127.32 L196.49,127.81 L197.05,128.28 L197.60,128.73 L198.16,129.16 L198.72,129.57 L199.28,129.96 L199.84,130.32 L200.39,130.67 L200.95,131.00 L201.51,131.30 L202.07,131.58 L202.62,131.83 L203.18,132.07 L203.74,132.28 L204.30,132.46 L204.86,132.62 L205.41,132.75 L205.97,132.86 L206.53,132.95 L207.09,133.01 L207.65,133.04 L208.20,133.05 L208.76,133.03 L209.32,132.99 L209.88,132.92 L210.44,132.83 L210.99,132.71 L211.55,132.57 L212.11,132.40 L212.67,132.21 L213.22,131.99 L213.78,131.75 L214.34,131.49 L214.90,131.20 L215.46,130.89 L216.01,130.56 L216.57,130.20 L217.13,129.83 L217.69,129.43 L218.25,129.01 L218.80,128.58 L219.36,128.12 L219.92,127.65 L220.48,127.16 L221.04,126.65 L221.59,126.12 L222.15,125.58 L222.71,125.03 L223.27,124.46 L223.83,123.87 L224.38,123.28 L224.94,122.67 L225.50,122.05 L226.06,121.43 L226.61,120.79 L227.17,120.14 L227.73,119.49 L228.29,118.84 L228.85,118.17 L229.40,117.51 L229.96,116.83 L230.52,116.16 L231.08,115.49 L231.64,114.81 L232.19,114.14 L232.75,113.47 L233.31,112.80 L233.87,112.13 L234.43,111.47 L234.98,110.81 L235.54,110.16 L236.10,109.51 L236.66,108.88 L237.21,108.25 L237.77,107.63 L238.33,107.02 L238.89,106.43 L239.45,105.84 L240.00,105.28 L240.56,104.72 L241.12,104.18 L241.68,103.65 L242.24,103.14 L242.79,102.65 L243.35,102.18 L243.91,101.72 L244.47,101.29 L245.03,100.87 L245.58,100.47 L246.14,100.10 L246.70,99.74 L247.26,99.41 L247.81,99.10 L248.37,98.81 L248.93,98.55 L249.49,98.31 L250.05,98.09 L250.60,97.90 L251.16,97.73 L251.72,97.59 L252.28,97.47 L252.84,97.38 L253.39,97.31 L253.95,97.27 L254.51,97.25 L255.07,97.26 L255.63,97.29 L256.18,97.35 L256.74,97.44 L257.30,97.55 L257.86,97.68 L258.41,97.84 L258.97,98.02 L259.53,98.23 L260.09,98.46 L260.65,98.72 L261.20,99.00 L261.76,99.30 L262.32,99.63 L262.88,99.98 L263.44,100.34 L263.99,100.73 L264.55,101.14 L265.11,101.57 L265.67,102.02 L266.23,102.49 L266.78,102.98 L267.34,103.48 L267.90,104.00 L268.46,104.54 L269.01,105.09 L269.57,105.65 L270.13,106.23 L270.69,106.82 L271.25,107.43 L271.80,108.04 L272.36,108.66 L272.92,109.30 L273.48,109.94 L274.04,110.59 L274.59,111.24 L275.15,111.91 L275.71,112.57 L276.27,113.24 L276.83,113.91 L277.38,114.59 L277.94,115.26 L278.50,115.94 L279.06,116.61 L279.62,117.28 L280.17,117.95 L280.73,118.61 L281.29,119.27 L281.85,119.93 L282.40,120.57 L282.96,121.21 L283.52,121.84 L284.08,122.46 L284.64,123.08 L285.19,123.67 L285.75,124.26 L286.31,124.84 L286.87,125.40 L287.43,125.94 L287.98,126.47 L288.54,126.99 L289.10,127.49 L289.66,127.97 L290.22,128.43 L290.77,128.87 L291.33,129.29 L291.89,129.70 L292.45,130.08 L293.00,130.44 L293.56,130.78 L294.12,131.10 L294.68,131.39 L295.24,131.67 L295.79,131.92 L296.35,132.14 L296.91,132.34 L297.47,132.52 L298.03,132.67 L298.58,132.79 L299.14,132.90 L299.70,132.97 L300.26,133.02 L300.82,133.05 L301.37,133.05 L301.93,133.02 L302.49,132.97 L303.05,132.90 L303.60,132.79 L304.16,132.67 L304.72,132.52 L305.28,132.34 L305.84,132.14 L306.39,131.92 L306.95,131.67 L307.51,131.40 L308.07,131.10 L308.63,130.78 L309.18,130.44 L309.74,130.08 L310.30,129.70 L310.86,129.29 L311.42,128.87 L311.97,128.43 L312.53,127.97 L313.09,127.49 L313.65,126.99 L314.20,126.47 L314.76,125.94 L315.32,125.40 L315.88,124.84 L316.44,124.26 L316.99,123.68 L317.55,123.08 L318.11,122.47 L318.67,121.84 L319.23,121.21 L319.78,120.57 L320.34,119.93 L320.90,119.27 L321.46,118.62 L322.02,117.95 L322.57,117.28 L323.13,116.61 L323.69,115.94 L324.25,115.26 L324.80,114.59 L325.36,113.91 L325.92,113.24 L326.48,112.57 L327.04,111.91 L327.59,111.25 L328.15,110.59 L328.71,109.94 L329.27,109.30 L329.83,108.67 L330.38,108.04 L330.94,107.43 L331.50,106.82 L332.06,106.23 L332.62,105.65 L333.17,105.09 L333.73,104.54 L334.29,104.00 L334.85,103.48 L335.41,102.98 L335.96,102.49 L336.52,102.02 L337.08,101.57 L337.64,101.14 L338.19,100.73 L338.75,100.34 L339.31,99.98 L339.87,99.63 L340.43,99.30 L340.98,99.00 L341.54,98.72 L342.10,98.47 L342.66,98.23 L343.22,98.02 L343.77,97.84 L344.33,97.68 L344.89,97.55 L345.45,97.44 L346.01,97.35 L346.56,97.29 L347.12,97.26 L347.68,97.25 L348.24,97.27 L348.79,97.31 L349.35,97.38 L349.91,97.47 L350.47,97.59 L351.03,97.73 L351.58,97.90 L352.14,98.09 L352.70,98.31 L353.26,98.55 L353.82,98.81 L354.37,99.10 L354.93,99.41 L355.49,99.74 L356.05,100.10 L356.61,100.47 L357.16,100.87 L357.72,101.29 L358.28,101.72 L358.84,102.18 L359.39,102.65 L359.95,103.14 L360.51,103.65 L361.07,104.18 L361.63,104.72 L362.18,105.27 L362.74,105.84 L363.30,106.43 L363.86,107.02 L364.42,107.63 L364.97,108.25 L365.53,108.87 L366.09,109.51 L366.65,110.16 L367.21,110.81 L367.76,111.46 L368.32,112.13 L368.88,112.79 L369.44,113.46 L369.99,114.14 L370.55,114.81 L371.11,115.49 L371.67,116.16 L372.23,116.83 L372.78,117.50 L373.34,118.17 L373.90,118.83 L374.46,119.49 L375.02,120.14 L375.57,120.79 L376.13,121.42 L376.69,122.05 L377.25,122.67 L377.81,123.28 L378.36,123.87 L378.92,124.45 L379.48,125.02 L380.04,125.58 L380.59,126.12 L381.15,126.65 L381.71,127.16 L382.27,127.65 L382.83,128.12 L383.38,128.58 L383.94,129.01 L384.50,129.43 L385.06,129.83 L385.62,130.20 L386.17,130.56 L386.73,130.89 L387.29,131.20 L387.85,131.49 L388.41,131.75 L388.96,131.99 L389.52,132.21 L390.08,132.40 L390.64,132.57 L391.20,132.71 L391.75,132.83 L392.31,132.92 L392.87,132.99 L393.43,133.03 L393.98,133.05 L394.54,133.04 L395.10,133.01 L395.66,132.95 L396.22,132.86 L396.77,132.75 L397.33,132.62 L397.89,132.46 L398.45,132.28 L399.01,132.07 L399.56,131.84 L400.12,131.58 L400.68,131.30 L401.24,131.00 L401.80,130.67 L402.35,130.32 L402.91,129.96 L403.47,129.57 L404.03,129.16 L404.58,128.73 L405.14,128.28 L405.70,127.81 L406.26,127.32 L406.82,126.82 L407.37,126.30 L407.93,125.76 L408.49,125.21 L409.05,124.65 L409.61,124.07 L410.16,123.48 L410.72,122.87 L411.28,122.26 L411.84,121.64 L412.40,121.00 L412.95,120.36 L413.51,119.71 L414.07,119.06 L414.63,118.39 L415.18,117.73 L415.74,117.06 L416.30,116.39 L416.86,115.71 L417.42,115.04 L417.97,114.36 L418.53,113.69 L419.09,113.02 L419.65,112.35 L420.21,111.69 L420.76,111.03 L421.32,110.37 L421.88,109.73 L422.44,109.09 L423.00,108.46 L423.55,107.84 L424.11,107.22 L424.67,106.63 L425.23,106.04 L425.78,105.46 L426.34,104.90 L426.90,104.36 L427.46,103.83 L428.02,103.31 L428.57,102.81 L429.13,102.33 L429.69,101.87 L430.25,101.43 L430.81,101.01 L431.36,100.60 L431.92,100.22 L432.48,99.86 L433.04,99.52 L433.60,99.20 L434.15,98.91 L434.71,98.63 L435.27,98.39 L435.83,98.16 L436.38,97.96 L436.94,97.78 L437.50,97.63 L438.06,97.51 L438.62,97.40 L439.17,97.33 L439.73,97.28 L440.29,97.25 L440.85,97.25 L441.41,97.28 L441.96,97.33 L442.52,97.40 L443.08,97.51 L443.64,97.63 L444.20,97.78 L444.75,97.96 L445.31,98.16 L445.87,98.38 L446.43,98.63 L446.99,98.90 L447.54,99.20 L448.10,99.52 L448.66,99.86 L449.22,100.22 L449.77,100.60 L450.33,101.01 L450.89,101.43 L451.45,101.87 L452.01,102.33 L452.56,102.81 L453.12,103.31 L453.68,103.83 L454.24,104.36 L454.80,104.90 L455.35,105.46 L455.91,106.04 L456.47,106.62 L457.03,107.22 L457.59,107.83 L458.14,108.46 L458.70,109.09 L459.26,109.72 L459.82,110.37 L460.37,111.03 L460.93,111.68 L461.49,112.35 L462.05,113.02 L462.61,113.69 L463.16,114.36 L463.72,115.04 L464.28,115.71 L464.84,116.39 L465.40,117.06 L465.95,117.73 L466.51,118.39 L467.07,119.05 L467.63,119.71 L468.19,120.36 L468.74,121.00 L469.30,121.63 L469.86,122.26 L470.42,122.87 L470.97,123.48 L471.53,124.07 L472.09,124.65 L472.65,125.21 L473.21,125.76 L473.76,126.30 L474.32,126.82 L474.88,127.32 L475.44,127.81 L476.00,128.28 L476.55,128.72 L477.11,129.16 L477.67,129.57 L478.23,129.96 L478.79,130.32 L479.34,130.67 L479.90,131.00 L480.46,131.30 L481.02,131.58 L481.57,131.83 L482.13,132.07 L482.69,132.28 L483.25,132.46 L483.81,132.62 L484.36,132.75 L484.92,132.86 L485.48,132.95 L486.04,133.01 L486.60,133.04 L487.15,133.05 L487.71,133.03 L488.27,132.99 L488.83,132.92 L489.39,132.83 L489.94,132.71 L490.50,132.57 L491.06,132.40 L491.62,132.21 L492.17,131.99 L492.73,131.75 L493.29,131.49 L493.85,131.20 L494.41,130.89 L494.96,130.56 L495.52,130.20 L496.08,129.83 L496.64,129.43 L497.20,129.01 L497.75,128.58 L498.31,128.12 L498.87,127.65 L499.43,127.16 L499.99,126.65 L500.54,126.12 L501.10,125.58 L501.66,125.03 L502.22,124.46 L502.78,123.87 L503.33,123.28 L503.89,122.67 L504.45,122.05 L505.01,121.43 L505.56,120.79 L506.12,120.15 L506.68,119.49 L507.24,118.84 L507.80,118.17 L508.35,117.51 L508.91,116.84 L509.47,116.16 L510.03,115.49 L510.59,114.81 L511.14,114.14 L511.70,113.47 L512.26,112.80 L512.82,112.13 L513.38,111.47 L513.93,110.81 L514.49,110.16 L515.05,109.51 L515.61,108.88 L516.16,108.25 L516.72,107.63 L517.28,107.02 L517.84,106.43 L518.40,105.85 L518.95,105.28 L519.51,104.72" fill="none" stroke="#8c564b" stroke-width="1.70" stroke-linejoin="round" stroke-linecap="square"/>
</g>
<rect x="51.80" y="27.80" width="490.40" height="173.90" fill="none" stroke="#111" stroke-width="0.9"/>
<line x1="73.75" y1="201.70" x2="73.75" y2="205.70" stroke="#000" stroke-width="0.8"/>
<text x="73.75" y="218.2" text-anchor="middle" class="tk">0</text>
<line x1="129.54" y1="201.70" x2="129.54" y2="205.70" stroke="#000" stroke-width="0.8"/>
<text x="129.54" y="218.2" text-anchor="middle" class="tk">100</text>
<line x1="185.33" y1="201.70" x2="185.33" y2="205.70" stroke="#000" stroke-width="0.8"/>
<text x="185.33" y="218.2" text-anchor="middle" class="tk">200</text>
<line x1="241.12" y1="201.70" x2="241.12" y2="205.70" stroke="#000" stroke-width="0.8"/>
<text x="241.12" y="218.2" text-anchor="middle" class="tk">300</text>
<line x1="296.91" y1="201.70" x2="296.91" y2="205.70" stroke="#000" stroke-width="0.8"/>
<text x="296.91" y="218.2" text-anchor="middle" class="tk">400</text>
<line x1="352.70" y1="201.70" x2="352.70" y2="205.70" stroke="#000" stroke-width="0.8"/>
<text x="352.70" y="218.2" text-anchor="middle" class="tk">500</text>
<line x1="408.49" y1="201.70" x2="408.49" y2="205.70" stroke="#000" stroke-width="0.8"/>
<text x="408.49" y="218.2" text-anchor="middle" class="tk">600</text>
<line x1="464.28" y1="201.70" x2="464.28" y2="205.70" stroke="#000" stroke-width="0.8"/>
<text x="464.28" y="218.2" text-anchor="middle" class="tk">700</text>
<line x1="520.07" y1="201.70" x2="520.07" y2="205.70" stroke="#000" stroke-width="0.8"/>
<text x="520.07" y="218.2" text-anchor="middle" class="tk">800</text>
<line x1="48.00" y1="159.35" x2="51.80" y2="159.35" stroke="#000" stroke-width="0.8"/>
<text x="43.8" y="163.85" text-anchor="end" class="tk">−2</text>
<line x1="48.00" y1="115.15" x2="51.80" y2="115.15" stroke="#000" stroke-width="0.8"/>
<text x="43.8" y="119.65" text-anchor="end" class="tk">0</text>
<line x1="48.00" y1="70.95" x2="51.80" y2="70.95" stroke="#000" stroke-width="0.8"/>
<text x="43.8" y="75.45" text-anchor="end" class="tk">2</text>

<path d="M88.00,36.00 L151.20,36.00 A13.50,13.50 0 0 1 164.70,49.50 L164.70,187.20 A13.50,13.50 0 0 1 151.20,200.70 L88.00,200.70 A13.50,13.50 0 0 1 74.50,187.20 L74.50,49.50 A13.50,13.50 0 0 1 88.00,36.00 Z" fill="none" stroke="#000" stroke-width="2.30" stroke-dasharray="7 8"/>
<path d="M178.50,35.00 L241.80,35.00 A13.50,13.50 0 0 1 255.30,48.50 L255.30,187.20 A13.50,13.50 0 0 1 241.80,200.70 L178.50,200.70 A13.50,13.50 0 0 1 165.00,187.20 L165.00,48.50 A13.50,13.50 0 0 1 178.50,35.00 Z" fill="none" stroke="#000" stroke-width="2.30" stroke-dasharray="7 8" pathLength="487"/>

<path d="M269.6,37 L323.6,37 L323.6,27.8 L345.6,49.2 L323.6,70.6 L323.6,61 L269.6,61 Z" fill="#fff" stroke="#7a7a7a" stroke-width="0.9"/>
<text x="272.6" y="55.2" class="sr" style="font-size:17.1px">Stride = n</text>

<text x="73.6" y="24.1" class="sr" style="font-size:17.1px">Window length = n</text>
<text x="298" y="235.9" text-anchor="middle" class="sr" style="font-size:15.2px;stroke-width:0.15px">Timesteps</text>
<text transform="translate(19.0,119.3) rotate(-90)" text-anchor="middle" class="sr" style="font-size:15.5px;stroke-width:0.15px">Voltages and Currents Signals</text>
</svg>
</body></html>
